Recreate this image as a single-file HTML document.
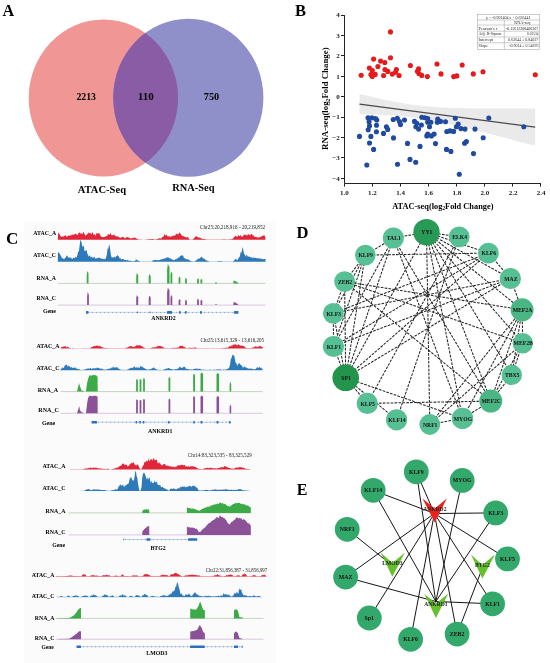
<!DOCTYPE html>
<html><head><meta charset="utf-8"><title>Figure</title>
<style>html,body{margin:0;padding:0;background:#fff;width:550px;height:663px;overflow:hidden}
svg{display:block} text{font-family:'Liberation Serif','Times New Roman',serif}</style></head>
<body><svg width="550" height="663" viewBox="0 0 550 663">
<rect width="550" height="663" fill="#fff"/>
<text x="2.6" y="15.5" font-size="16.2" font-weight="bold" text-anchor="start" fill="#000" >A</text>
<defs><clipPath id="clipL"><ellipse cx="103.4" cy="98" rx="74.7" ry="78.4"/></clipPath></defs>
<ellipse cx="103.4" cy="98" rx="74.7" ry="78.4" fill="#F09695"/>
<ellipse cx="188.3" cy="97.8" rx="75.1" ry="79" fill="#8F90C9"/>
<ellipse cx="188.3" cy="97.8" rx="75.1" ry="79" fill="#8A5CA6" clip-path="url(#clipL)"/>
<text x="76.4" y="99.7" font-size="10.8" font-weight="bold" text-anchor="start" fill="#000" textLength="19.6" lengthAdjust="spacingAndGlyphs" >2213</text>
<text x="137.8" y="99.7" font-size="10.8" font-weight="bold" text-anchor="start" fill="#000" textLength="16" lengthAdjust="spacingAndGlyphs" >110</text>
<text x="203.8" y="99.7" font-size="10.8" font-weight="bold" text-anchor="start" fill="#000" textLength="15.4" lengthAdjust="spacingAndGlyphs" >750</text>
<text x="77.8" y="193.1" font-size="10.8" font-weight="bold" text-anchor="start" fill="#000" textLength="48.2" lengthAdjust="spacingAndGlyphs" >ATAC-Seq</text>
<text x="172.3" y="191" font-size="10.8" font-weight="bold" text-anchor="start" fill="#000" textLength="42.2" lengthAdjust="spacingAndGlyphs" >RNA-Seq</text>
<text x="294.9" y="15.7" font-size="16.5" font-weight="bold" text-anchor="start" fill="#000" >B</text>
<polygon fill="#EAEAEA" points="359.47,93.94 362.4,94.65 365.32,95.36 368.25,96.06 371.18,96.74 374.11,97.42 377.04,98.09 379.97,98.74 382.9,99.39 385.83,100.01 388.76,100.62 391.69,101.21 394.62,101.78 397.55,102.33 400.47,102.85 403.4,103.35 406.33,103.83 409.26,104.27 412.19,104.69 415.12,105.08 418.05,105.44 420.98,105.77 423.91,106.08 426.84,106.36 429.77,106.61 432.7,106.84 435.62,107.04 438.55,107.23 441.48,107.39 444.41,107.54 447.34,107.67 450.27,107.79 453.2,107.89 456.13,107.99 459.06,108.07 461.99,108.14 464.92,108.2 467.85,108.26 470.77,108.3 473.7,108.35 476.63,108.38 479.56,108.41 482.49,108.44 485.42,108.46 488.35,108.47 491.28,108.49 494.21,108.5 497.14,108.5 500.07,108.51 503,108.51 505.92,108.51 508.85,108.5 511.78,108.5 514.71,108.49 517.64,108.48 520.57,108.47 523.5,108.45 526.43,108.44 529.36,108.42 532.29,108.41 535.22,108.39 535.22,145.84 532.29,145.05 529.36,144.27 526.43,143.49 523.5,142.71 520.57,141.93 517.64,141.15 514.71,140.38 511.78,139.6 508.85,138.83 505.92,138.06 503,137.29 500.07,136.53 497.14,135.76 494.21,135 491.28,134.25 488.35,133.49 485.42,132.74 482.49,132 479.56,131.26 476.63,130.52 473.7,129.79 470.77,129.07 467.85,128.35 464.92,127.64 461.99,126.93 459.06,126.24 456.13,125.55 453.2,124.88 450.27,124.22 447.34,123.57 444.41,122.94 441.48,122.32 438.55,121.72 435.62,121.14 432.7,120.57 429.77,120.04 426.84,119.52 423.91,119.03 420.98,118.57 418.05,118.14 415.12,117.73 412.19,117.36 409.26,117.01 406.33,116.69 403.4,116.4 400.47,116.13 397.55,115.89 394.62,115.67 391.69,115.47 388.76,115.3 385.83,115.14 382.9,115 379.97,114.87 377.04,114.76 374.11,114.66 371.18,114.58 368.25,114.5 365.32,114.43 362.4,114.37 359.47,114.32"/>
<line x1="359.47" y1="104.13" x2="535.22" y2="127.11" stroke="#4a4a4a" stroke-width="1.2"/>
<circle cx="361.2" cy="75.3" r="2.55" fill="#E8191A"/>
<circle cx="369.4" cy="68" r="2.55" fill="#E8191A"/>
<circle cx="370.9" cy="74.5" r="2.55" fill="#E8191A"/>
<circle cx="372.3" cy="70.5" r="2.55" fill="#E8191A"/>
<circle cx="372.3" cy="76.4" r="2.55" fill="#E8191A"/>
<circle cx="373.6" cy="59.1" r="2.55" fill="#E8191A"/>
<circle cx="375.2" cy="74.4" r="2.55" fill="#E8191A"/>
<circle cx="377.9" cy="66.5" r="2.55" fill="#E8191A"/>
<circle cx="380.6" cy="61.1" r="2.55" fill="#E8191A"/>
<circle cx="383.6" cy="75.6" r="2.55" fill="#E8191A"/>
<circle cx="384.8" cy="62.5" r="2.55" fill="#E8191A"/>
<circle cx="385" cy="69.5" r="2.55" fill="#E8191A"/>
<circle cx="387.7" cy="71.4" r="2.55" fill="#E8191A"/>
<circle cx="390.5" cy="31.9" r="2.55" fill="#E8191A"/>
<circle cx="390.5" cy="57.7" r="2.55" fill="#E8191A"/>
<circle cx="392.3" cy="74.1" r="2.55" fill="#E8191A"/>
<circle cx="395.5" cy="72.3" r="2.55" fill="#E8191A"/>
<circle cx="396.4" cy="69.5" r="2.55" fill="#E8191A"/>
<circle cx="399.1" cy="75.5" r="2.55" fill="#E8191A"/>
<circle cx="410.4" cy="65.5" r="2.55" fill="#E8191A"/>
<circle cx="418.6" cy="68.9" r="2.55" fill="#E8191A"/>
<circle cx="417.4" cy="71.2" r="2.55" fill="#E8191A"/>
<circle cx="418.9" cy="73.5" r="2.55" fill="#E8191A"/>
<circle cx="421.7" cy="75.4" r="2.55" fill="#E8191A"/>
<circle cx="427.4" cy="76.6" r="2.55" fill="#E8191A"/>
<circle cx="437" cy="64" r="2.55" fill="#E8191A"/>
<circle cx="441" cy="73.9" r="2.55" fill="#E8191A"/>
<circle cx="453.7" cy="76.6" r="2.55" fill="#E8191A"/>
<circle cx="456.8" cy="75.9" r="2.55" fill="#E8191A"/>
<circle cx="462.2" cy="65" r="2.55" fill="#E8191A"/>
<circle cx="473.3" cy="73.9" r="2.55" fill="#E8191A"/>
<circle cx="483" cy="71.7" r="2.55" fill="#E8191A"/>
<circle cx="535.3" cy="74.8" r="2.55" fill="#E8191A"/>
<circle cx="368" cy="117.7" r="2.55" fill="#1F4AA0"/>
<circle cx="371.8" cy="117.7" r="2.55" fill="#1F4AA0"/>
<circle cx="375.5" cy="118.5" r="2.55" fill="#1F4AA0"/>
<circle cx="376.8" cy="120" r="2.55" fill="#1F4AA0"/>
<circle cx="369.1" cy="121.8" r="2.55" fill="#1F4AA0"/>
<circle cx="369.5" cy="125.9" r="2.55" fill="#1F4AA0"/>
<circle cx="368.2" cy="129.7" r="2.55" fill="#1F4AA0"/>
<circle cx="376.5" cy="125.2" r="2.55" fill="#1F4AA0"/>
<circle cx="376.4" cy="131.8" r="2.55" fill="#1F4AA0"/>
<circle cx="386.4" cy="126.8" r="2.55" fill="#1F4AA0"/>
<circle cx="387.7" cy="129.4" r="2.55" fill="#1F4AA0"/>
<circle cx="383.5" cy="133.4" r="2.55" fill="#1F4AA0"/>
<circle cx="359.5" cy="136.4" r="2.55" fill="#1F4AA0"/>
<circle cx="370.9" cy="136.4" r="2.55" fill="#1F4AA0"/>
<circle cx="393.5" cy="137.9" r="2.55" fill="#1F4AA0"/>
<circle cx="369.5" cy="143" r="2.55" fill="#1F4AA0"/>
<circle cx="373.6" cy="149.4" r="2.55" fill="#1F4AA0"/>
<circle cx="366.8" cy="165" r="2.55" fill="#1F4AA0"/>
<circle cx="397.5" cy="164.3" r="2.55" fill="#1F4AA0"/>
<circle cx="393.2" cy="119.5" r="2.55" fill="#1F4AA0"/>
<circle cx="397.3" cy="118.2" r="2.55" fill="#1F4AA0"/>
<circle cx="399.5" cy="121.5" r="2.55" fill="#1F4AA0"/>
<circle cx="400.5" cy="124.6" r="2.55" fill="#1F4AA0"/>
<circle cx="404.5" cy="120" r="2.55" fill="#1F4AA0"/>
<circle cx="414.5" cy="121.4" r="2.55" fill="#1F4AA0"/>
<circle cx="416.8" cy="123.2" r="2.55" fill="#1F4AA0"/>
<circle cx="415.9" cy="126.8" r="2.55" fill="#1F4AA0"/>
<circle cx="418.6" cy="129.1" r="2.55" fill="#1F4AA0"/>
<circle cx="421.4" cy="125" r="2.55" fill="#1F4AA0"/>
<circle cx="421.8" cy="117.3" r="2.55" fill="#1F4AA0"/>
<circle cx="425" cy="117.7" r="2.55" fill="#1F4AA0"/>
<circle cx="427.7" cy="118.6" r="2.55" fill="#1F4AA0"/>
<circle cx="427.7" cy="122.3" r="2.55" fill="#1F4AA0"/>
<circle cx="430.9" cy="122.3" r="2.55" fill="#1F4AA0"/>
<circle cx="429.5" cy="126.8" r="2.55" fill="#1F4AA0"/>
<circle cx="437.7" cy="119.1" r="2.55" fill="#1F4AA0"/>
<circle cx="437.3" cy="122.3" r="2.55" fill="#1F4AA0"/>
<circle cx="440.5" cy="121.4" r="2.55" fill="#1F4AA0"/>
<circle cx="427.7" cy="134.1" r="2.55" fill="#1F4AA0"/>
<circle cx="426.8" cy="135.9" r="2.55" fill="#1F4AA0"/>
<circle cx="431.4" cy="135.9" r="2.55" fill="#1F4AA0"/>
<circle cx="434.1" cy="134.1" r="2.55" fill="#1F4AA0"/>
<circle cx="407.5" cy="143.4" r="2.55" fill="#1F4AA0"/>
<circle cx="435.5" cy="143.6" r="2.55" fill="#1F4AA0"/>
<circle cx="420" cy="146.4" r="2.55" fill="#1F4AA0"/>
<circle cx="410" cy="159.4" r="2.55" fill="#1F4AA0"/>
<circle cx="415.7" cy="162.3" r="2.55" fill="#1F4AA0"/>
<circle cx="445.5" cy="121.8" r="2.55" fill="#1F4AA0"/>
<circle cx="455.3" cy="118.2" r="2.55" fill="#1F4AA0"/>
<circle cx="458.2" cy="124.1" r="2.55" fill="#1F4AA0"/>
<circle cx="456.4" cy="126.8" r="2.55" fill="#1F4AA0"/>
<circle cx="460.9" cy="128.6" r="2.55" fill="#1F4AA0"/>
<circle cx="465" cy="129.1" r="2.55" fill="#1F4AA0"/>
<circle cx="446.8" cy="131.5" r="2.55" fill="#1F4AA0"/>
<circle cx="450" cy="130.9" r="2.55" fill="#1F4AA0"/>
<circle cx="453.6" cy="131.4" r="2.55" fill="#1F4AA0"/>
<circle cx="475" cy="129.1" r="2.55" fill="#1F4AA0"/>
<circle cx="483.2" cy="137.8" r="2.55" fill="#1F4AA0"/>
<circle cx="466.4" cy="141.5" r="2.55" fill="#1F4AA0"/>
<circle cx="464.6" cy="143.3" r="2.55" fill="#1F4AA0"/>
<circle cx="446.5" cy="149.4" r="2.55" fill="#1F4AA0"/>
<circle cx="450.9" cy="151.4" r="2.55" fill="#1F4AA0"/>
<circle cx="473.5" cy="153.6" r="2.55" fill="#1F4AA0"/>
<circle cx="459.3" cy="174.2" r="2.55" fill="#1F4AA0"/>
<circle cx="488.8" cy="118.1" r="2.55" fill="#1F4AA0"/>
<circle cx="523.8" cy="126.8" r="2.55" fill="#1F4AA0"/>
<path d="M344.5,15.1 V183.5 H541" fill="none" stroke="#222" stroke-width="1.0"/>
<line x1="341" y1="178.5" x2="344.5" y2="178.5" stroke="#222" stroke-width="1"/>
<text x="339.8" y="180.6" font-size="7" font-weight="bold" text-anchor="end" fill="#1a1a1a" >−4</text>
<line x1="341" y1="157.5" x2="344.5" y2="157.5" stroke="#222" stroke-width="1"/>
<text x="339.8" y="160.2" font-size="7" font-weight="bold" text-anchor="end" fill="#1a1a1a" >−3</text>
<line x1="341" y1="137.5" x2="344.5" y2="137.5" stroke="#222" stroke-width="1"/>
<text x="339.8" y="139.8" font-size="7" font-weight="bold" text-anchor="end" fill="#1a1a1a" >−2</text>
<line x1="341" y1="117.5" x2="344.5" y2="117.5" stroke="#222" stroke-width="1"/>
<text x="339.8" y="119.4" font-size="7" font-weight="bold" text-anchor="end" fill="#1a1a1a" >−1</text>
<line x1="341" y1="96.5" x2="344.5" y2="96.5" stroke="#222" stroke-width="1"/>
<text x="339.8" y="99" font-size="7" font-weight="bold" text-anchor="end" fill="#1a1a1a" >0</text>
<line x1="341" y1="76.5" x2="344.5" y2="76.5" stroke="#222" stroke-width="1"/>
<text x="339.8" y="78.6" font-size="7" font-weight="bold" text-anchor="end" fill="#1a1a1a" >1</text>
<line x1="341" y1="55.5" x2="344.5" y2="55.5" stroke="#222" stroke-width="1"/>
<text x="339.8" y="58.2" font-size="7" font-weight="bold" text-anchor="end" fill="#1a1a1a" >2</text>
<line x1="341" y1="35.5" x2="344.5" y2="35.5" stroke="#222" stroke-width="1"/>
<text x="339.8" y="37.8" font-size="7" font-weight="bold" text-anchor="end" fill="#1a1a1a" >3</text>
<line x1="341" y1="15.5" x2="344.5" y2="15.5" stroke="#222" stroke-width="1"/>
<text x="339.8" y="17.4" font-size="7" font-weight="bold" text-anchor="end" fill="#1a1a1a" >4</text>
<line x1="344.5" y1="183.5" x2="344.5" y2="186.6" stroke="#222" stroke-width="1"/>
<text x="344.3" y="194.5" font-size="7" font-weight="bold" text-anchor="middle" fill="#1a1a1a" >1.0</text>
<line x1="372.5" y1="183.5" x2="372.5" y2="186.6" stroke="#222" stroke-width="1"/>
<text x="372.42" y="194.5" font-size="7" font-weight="bold" text-anchor="middle" fill="#1a1a1a" >1.2</text>
<line x1="400.5" y1="183.5" x2="400.5" y2="186.6" stroke="#222" stroke-width="1"/>
<text x="400.54" y="194.5" font-size="7" font-weight="bold" text-anchor="middle" fill="#1a1a1a" >1.4</text>
<line x1="428.5" y1="183.5" x2="428.5" y2="186.6" stroke="#222" stroke-width="1"/>
<text x="428.66" y="194.5" font-size="7" font-weight="bold" text-anchor="middle" fill="#1a1a1a" >1.6</text>
<line x1="456.5" y1="183.5" x2="456.5" y2="186.6" stroke="#222" stroke-width="1"/>
<text x="456.78" y="194.5" font-size="7" font-weight="bold" text-anchor="middle" fill="#1a1a1a" >1.8</text>
<line x1="484.5" y1="183.5" x2="484.5" y2="186.6" stroke="#222" stroke-width="1"/>
<text x="484.9" y="194.5" font-size="7" font-weight="bold" text-anchor="middle" fill="#1a1a1a" >2.0</text>
<line x1="512.5" y1="183.5" x2="512.5" y2="186.6" stroke="#222" stroke-width="1"/>
<text x="513.02" y="194.5" font-size="7" font-weight="bold" text-anchor="middle" fill="#1a1a1a" >2.2</text>
<line x1="540.5" y1="183.5" x2="540.5" y2="186.6" stroke="#222" stroke-width="1"/>
<text x="541.14" y="194.5" font-size="7" font-weight="bold" text-anchor="middle" fill="#1a1a1a" >2.4</text>
<text x="392.2" y="208.6" font-size="8.3" font-weight="bold" textLength="101.3" lengthAdjust="spacingAndGlyphs">ATAC-seq(log<tspan font-size="5.2" dy="1.6">2</tspan><tspan dy="-1.6">Fold Change)</tspan></text>
<text transform="translate(327.8,149.9) rotate(-90)" x="0" y="0" font-size="8.8" font-weight="bold" textLength="102.5" lengthAdjust="spacingAndGlyphs">RNA-seq(log<tspan font-size="5.5" dy="1.7">2</tspan><tspan dy="-1.7">Fold Change)</tspan></text>
<rect x="477.6" y="14.4" width="61.9" height="35" fill="#fff" stroke="#999" stroke-width="0.5"/>
<line x1="477.6" y1="20.0" x2="539.5" y2="20.0" stroke="#999" stroke-width="0.5"/>
<line x1="477.6" y1="25.0" x2="539.5" y2="25.0" stroke="#999" stroke-width="0.5"/>
<line x1="477.6" y1="31.2" x2="539.5" y2="31.2" stroke="#999" stroke-width="0.5"/>
<line x1="477.6" y1="37.0" x2="539.5" y2="37.0" stroke="#999" stroke-width="0.5"/>
<line x1="477.6" y1="42.8" x2="539.5" y2="42.8" stroke="#999" stroke-width="0.5"/>
<line x1="504.3" y1="20.0" x2="504.3" y2="49.4" stroke="#999" stroke-width="0.5"/>
<text x="486" y="18.6" font-size="4.6" font-weight="normal" text-anchor="start" fill="#2a2a2a" textLength="44.4" lengthAdjust="spacingAndGlyphs" >y = -0.901404 x + 0.636441</text>
<text x="514.3" y="23.8" font-size="4.6" font-weight="normal" text-anchor="start" fill="#2a2a2a" textLength="16.2" lengthAdjust="spacingAndGlyphs" >RNA-seq</text>
<text x="478.6" y="29.6" font-size="4.6" font-weight="normal" text-anchor="start" fill="#2a2a2a" textLength="18.6" lengthAdjust="spacingAndGlyphs" >Pearson's r</text>
<text x="505.9" y="29.6" font-size="4.6" font-weight="normal" text-anchor="start" fill="#2a2a2a" textLength="32.5" lengthAdjust="spacingAndGlyphs" >-0.15612208406367</text>
<text x="478.6" y="35.4" font-size="4.6" font-weight="normal" text-anchor="start" fill="#2a2a2a" textLength="23.3" lengthAdjust="spacingAndGlyphs" >Adj. R-Square</text>
<text x="527.1" y="35.4" font-size="4.6" font-weight="normal" text-anchor="start" fill="#2a2a2a" textLength="11.3" lengthAdjust="spacingAndGlyphs" >0.01534</text>
<text x="478.6" y="41.2" font-size="4.6" font-weight="normal" text-anchor="start" fill="#2a2a2a" textLength="14.6" lengthAdjust="spacingAndGlyphs" >Intercept</text>
<text x="507.9" y="41.2" font-size="4.6" font-weight="normal" text-anchor="start" fill="#2a2a2a" textLength="30.5" lengthAdjust="spacingAndGlyphs" >0.63644 ± 0.84037</text>
<text x="478.6" y="47.4" font-size="4.6" font-weight="normal" text-anchor="start" fill="#2a2a2a" textLength="9.4" lengthAdjust="spacingAndGlyphs" >Slope</text>
<text x="509.2" y="47.4" font-size="4.6" font-weight="normal" text-anchor="start" fill="#2a2a2a" textLength="29.2" lengthAdjust="spacingAndGlyphs" >-0.9014 ± 0.54876</text>
<rect x="24" y="221" width="252" height="442" fill="#FBFBFB"/>
<text x="5.9" y="244" font-size="17" font-weight="bold" text-anchor="start" fill="#000" >C</text>
<text x="33.3" y="235.2" font-size="6.5" font-weight="bold" text-anchor="start" fill="#000" textLength="22.9" lengthAdjust="spacingAndGlyphs" >ATAC_A</text>
<text x="33.3" y="257.2" font-size="6.5" font-weight="bold" text-anchor="start" fill="#000" textLength="22.7" lengthAdjust="spacingAndGlyphs" >ATAC_C</text>
<text x="36.5" y="279.5" font-size="6.5" font-weight="bold" text-anchor="start" fill="#000" textLength="19.5" lengthAdjust="spacingAndGlyphs" >RNA_A</text>
<text x="36.5" y="300.2" font-size="6.5" font-weight="bold" text-anchor="start" fill="#000" textLength="19.5" lengthAdjust="spacingAndGlyphs" >RNA_C</text>
<text x="42.9" y="313" font-size="6.5" font-weight="bold" text-anchor="start" fill="#000" textLength="13.1" lengthAdjust="spacingAndGlyphs" >Gene</text>
<text x="200.1" y="228.6" font-size="5.4" font-weight="normal" text-anchor="start" fill="#222" textLength="65" lengthAdjust="spacingAndGlyphs" >Chr25:20,218,916 - 20,219,852</text>
<polygon fill="#E1263A" points="57.8,239.8 58.2,232.86 58.9,233.01 59.6,234.2 60.3,235.86 61,236.43 61.7,236.82 62.4,236.15 63.1,237.04 63.8,236.01 64.5,236.07 65.2,235.28 65.9,235.52 66.6,236.92 67.3,236.07 68,236.16 68.7,235.32 69.4,235.58 70.1,236.21 70.8,234.45 71.5,235.17 72.2,235.15 72.9,234.08 73.6,235.1 74.3,234.25 75,234.22 75.7,233.62 76.4,234.26 77.1,234.88 77.8,235.08 78.5,233.14 79.2,232.57 79.9,232.79 80.6,233.77 81.3,233.25 82,233.59 82.7,234.21 83.4,231.87 84.1,232.81 84.8,234.44 85.5,235.78 86.2,235.09 86.9,234.47 87.6,233.95 88.3,232.15 89,233.75 89.7,232.71 90.4,232.71 91.1,234.17 91.8,233.23 92.5,232.02 93.2,234.48 93.9,234.51 94.6,234.04 95.3,235.69 96,234.76 96.7,232.67 97.4,233.51 98.1,233.58 98.8,232.95 99.5,233.58 100.2,235.36 100.9,236.3 101.6,237.09 102.3,236.93 103,236.91 103.7,237.36 104.4,237.11 105.1,236.76 105.8,235.9 106.5,236.22 107.2,235.93 107.9,233.9 108.6,234.29 109.3,235.04 110,233.95 110.7,232.97 111.4,235.29 112.1,235.01 112.8,235.4 113.5,235.05 114.2,234.29 114.9,235.76 115.6,236.23 116.3,236.08 117,237 117.7,236.34 118.4,236.78 119.1,237.17 119.8,237.73 120.5,237.71 121.2,237.77 121.9,237.11 122.6,236.75 123.3,236.92 124,237.4 124.7,238.26 125.4,238.21 126.1,237.34 126.8,237.18 127.5,237.06 128.2,237.85 128.9,237.29 129.6,237.99 130.3,238.61 131,238.61 131.7,238.24 132.4,238.04 133.1,237.81 133.8,238.19 134.5,237.29 135.2,238.08 135.9,237.82 136.6,238.57 137.3,239.2 138,238.94 138.7,239.49 139.4,239.53 140.1,239.51 140.8,239.59 141.5,239.6 142.2,239.62 142.9,239.64 143.6,239.64 144.3,239.64 145,239.62 145.7,239.54 146.4,239.47 147.1,239.57 147.8,239.28 148.5,239.35 149.2,239.1 149.9,239.16 150.6,238.9 151.3,239.12 152,239.17 152.7,238.87 153.4,239.01 154.1,239.29 154.8,239.49 155.5,239.43 156.2,239.35 156.9,239.08 157.6,238.98 158.3,238.83 159,238.28 159.7,238.34 160.4,238.52 161.1,238.54 161.8,238.01 162.5,236.72 163.2,237.12 163.9,235.84 164.6,233.82 165.3,235.13 166,235.5 166.7,234.59 167.4,236.42 168.1,236.02 168.8,236.77 169.5,236.34 170.2,236.51 170.9,237.22 171.6,236.08 172.3,236.55 173,234.82 173.7,236.06 174.4,235.77 175.1,235.41 175.8,234.4 176.5,233.47 177.2,234.63 177.9,233.43 178.6,234.52 179.3,231.81 180,233.99 180.7,233.24 181.4,235.09 182.1,235.8 182.8,236.12 183.5,236.11 184.2,236.98 184.9,236.28 185.6,237.18 186.3,237.49 187,237.36 187.7,237.02 188.4,237.82 189.1,239.02 189.8,239.54 190.5,239.48 191.2,239.55 191.9,239.45 192.6,239.42 193.3,238.82 194,238.55 194.7,237.16 195.4,236.72 196.1,236.12 196.8,236.59 197.5,237.31 198.2,237.26 198.9,237.62 199.6,237.76 200.3,237.44 201,238.42 201.7,238.57 202.4,238.95 203.1,238.92 203.8,238.96 204.5,239.01 205.2,239.34 205.9,239.44 206.6,239.32 207.3,239.41 208,239.49 208.7,239.52 209.4,239.56 210.1,239.53 210.8,239.5 211.5,239.48 212.2,239.48 212.9,239.52 213.6,239.45 214.3,239.48 215,239.57 215.7,239.46 216.4,239.48 217.1,239.55 217.8,239.49 218.5,239.43 219.2,239.45 219.9,239.42 220.6,239.48 221.3,239.48 222,239.47 222.7,239.32 223.4,239.26 224.1,239.61 224.8,239.18 225.5,239.35 226.2,239.55 226.9,239.44 227.6,239.56 228.3,239.47 229,239.08 229.7,239.42 230.4,239.28 231.1,239.25 231.8,239.27 232.5,238.98 233.2,238.2 233.9,237.15 234.6,236.83 235.3,235.81 236,236.2 236.7,236.5 237.4,236.75 238.1,235.77 238.8,234.93 239.5,236.57 240.2,234.66 240.9,236.12 241.6,236.52 242.3,236.52 243,236.48 243.7,235.02 244.4,234.84 245.1,234.29 245.8,235.28 246.5,234.95 247.2,235.64 247.9,234.27 248.6,234.62 249.3,234.14 250,235.48 250.7,234.39 251.4,234.03 252.1,234.17 252.8,235.83 253.5,235.08 254.2,236.44 254.9,236.93 255.6,236.91 256.3,236.76 257,237.39 257.7,237.39 258.4,237.42 259.1,237.23 259.8,237.19 260.5,236.79 261.2,236.74 261.9,235.98 262.6,235.56 263.3,236.32 264,234.53 264.7,236.14 265.11,236.6 265.5,239.8"/>
<polygon fill="#2E7AB8" points="57.8,261.8 57.91,253.73 58.61,251.79 59.31,253.32 60.01,253.98 60.71,255.71 61.41,256.8 62.11,258.54 62.81,258 63.51,258.89 64.21,258.9 64.91,258.15 65.61,257.68 66.31,255.95 67.01,255.59 67.71,256.71 68.41,257.22 69.11,258.21 69.81,256.88 70.51,257.85 71.21,257.8 71.91,258.9 72.61,258.72 73.31,257.48 74.01,257.75 74.71,258.49 75.41,256.68 76.11,257.36 76.81,257.16 77.51,254.52 78.21,251.57 78.91,251.56 79.61,245.85 80.31,239.98 81.01,240.85 81.71,243.08 82.41,246.98 83.11,246.38 83.81,245.05 84.51,251.6 85.21,250.08 85.91,251.46 86.61,249.49 87.31,253.43 88.01,255.04 88.71,256.63 89.41,255.31 90.11,255.93 90.81,257.67 91.51,256.13 92.21,257.93 92.91,257.33 93.61,257.56 94.31,256.62 95.01,258.39 95.71,258.45 96.41,258.24 97.11,258.04 97.81,258.55 98.51,257.55 99.21,257.59 99.91,258.14 100.61,258.15 101.31,258.62 102.01,259.11 102.71,258.39 103.41,259.33 104.11,258.83 104.81,259.24 105.51,259.02 106.21,256.98 106.91,254.34 107.61,248.31 108.31,249.11 109.01,244.51 109.71,246.07 110.41,251.36 111.11,256.11 111.81,257.42 112.51,257.59 113.21,257.14 113.91,257.6 114.61,256.53 115.31,257.65 116.01,256.16 116.71,256.3 117.41,254.84 118.11,256.22 118.81,256.21 119.51,258.58 120.21,258.04 120.91,258.63 121.61,259.75 122.31,258.78 123.01,259.05 123.71,259.29 124.41,259.99 125.11,259.7 125.81,260.07 126.51,260.42 127.21,259.76 127.91,260.59 128.61,260.61 129.31,260.7 130.01,260.68 130.71,260.83 131.41,261.12 132.11,261.2 132.81,261.19 133.51,261.04 134.21,261.37 134.91,260.89 135.61,260.08 136.31,259.17 137.01,260.26 137.71,260.48 138.41,260.48 139.11,261.08 139.81,261.2 140.51,261.48 141.21,261.49 141.91,261.47 142.61,261.5 143.31,261.48 144.01,261.54 144.71,261.55 145.41,261.5 146.11,261.52 146.81,261.51 147.51,261.47 148.21,261.45 148.91,261.51 149.61,261.47 150.31,261.57 151.01,261.56 151.71,261.45 152.41,260.96 153.11,260.29 153.81,260.24 154.51,259.89 155.21,259.72 155.91,260.01 156.61,260.16 157.31,259.95 158.01,259.91 158.71,260.47 159.41,259.94 160.11,259.97 160.81,259.03 161.51,259.81 162.21,258.95 162.91,258.68 163.61,258.88 164.31,258.56 165.01,258.22 165.71,258.25 166.41,258.08 167.11,256.69 167.81,257.85 168.51,257.3 169.21,258.4 169.91,258.07 170.61,258.47 171.31,259.11 172.01,259.76 172.71,259.25 173.41,260.22 174.11,259.97 174.81,260.04 175.51,259.07 176.21,259.51 176.91,258.06 177.61,259 178.31,257.03 179.01,257.91 179.71,256.47 180.41,255.85 181.11,255.72 181.81,255.19 182.51,255.55 183.21,255.85 183.91,258.09 184.61,258.1 185.31,259.27 186.01,258.37 186.71,259.62 187.41,259.3 188.11,259.46 188.81,259.82 189.51,260.29 190.21,260.63 190.91,260.93 191.61,261.2 192.31,261.31 193.01,261.49 193.71,261.43 194.41,261.41 195.11,261 195.81,260.61 196.51,260.25 197.21,259.62 197.91,258.93 198.61,258.2 199.31,258.63 200.01,258.25 200.71,257.25 201.41,256.58 202.11,257.14 202.81,258.33 203.51,258.46 204.21,258.81 204.91,258.97 205.61,260.28 206.31,260.17 207.01,260.44 207.71,260.97 208.41,261.08 209.11,261.55 209.81,261.51 210.51,261.57 211.21,261.55 211.91,261.49 212.61,261.55 213.31,261.56 214.01,261.49 214.71,261.46 215.41,261.5 216.11,261.56 216.81,261.49 217.51,261.43 218.21,261.07 218.91,261 219.61,261.25 220.31,261.22 221.01,261.17 221.71,260.95 222.41,261.21 223.11,261.67 223.81,261.54 224.51,261.49 225.21,261.51 225.91,261.56 226.61,261.49 227.31,261.57 228.01,261.56 228.71,261.54 229.41,261.5 230.11,261.49 230.81,261.56 231.51,261.54 232.21,261.56 232.91,261.38 233.61,261.03 234.31,260.53 235.01,258.89 235.71,259.27 236.41,259.37 237.11,260.26 237.81,259.68 238.51,258.11 239.21,257.24 239.91,256.35 240.61,252.06 241.31,252.96 242.01,249.77 242.71,247.07 243.41,250.55 244.11,254.39 244.81,253.91 245.51,256.76 246.21,255.29 246.91,255.11 247.61,256.42 248.31,256.53 249.01,256.82 249.71,256.51 250.41,257.18 251.11,257.54 251.81,257.23 252.51,258.29 253.21,257.55 253.91,257.54 254.61,258.3 255.31,257.51 256.01,258.29 256.71,258.01 257.41,258.53 258.11,258.25 258.81,258.36 259.51,258.66 260.21,258.2 260.91,258.66 261.61,258.84 262.31,259.13 263.01,259.05 263.71,259.34 264.41,258.94 265.11,259 265.55,258.6 265.5,261.8"/>
<line x1="57.8" y1="283.4" x2="265.5" y2="283.4" stroke="#9DB89A" stroke-width="0.6"/>
<polygon fill="#3DAA48" points="86.7,283.4 86.7,275.34 87.24,271 88.5,273.6 88.5,283.4"/>
<polygon fill="#3DAA48" points="136.2,283.4 136.2,276.64 136.8,273 138.2,275.18 138.2,283.4"/>
<polygon fill="#3DAA48" points="148.7,283.4 148.7,277.29 149.3,274 150.7,275.97 150.7,283.4"/>
<polygon fill="#3DAA48" points="167.1,283.4 167.1,269.61 167.82,263.7 169.5,267.25 169.5,283.4"/>
<polygon fill="#3DAA48" points="170.5,283.4 170.5,275 171.04,271.4 172.3,273.56 172.3,283.4"/>
<polygon fill="#3DAA48" points="178.6,283.4 178.6,278.85 179.14,276.4 180.4,277.87 180.4,283.4"/>
<polygon fill="#3DAA48" points="185.1,283.4 185.1,279.76 185.64,277.8 186.9,278.98 186.9,283.4"/>
<polygon fill="#3DAA48" points="197.1,283.4 197.1,280.02 197.64,278.2 198.9,279.29 198.9,283.4"/>
<polygon fill="#3DAA48" points="200.5,283.4 200.5,280.34 201.04,278.7 202.3,279.69 202.3,283.4"/>
<polygon fill="#3DAA48" points="215,283.4 215.4,282.62 216,282.1 216.6,282.49 217,283.4"/>
<polygon fill="#3DAA48" points="233.3,283.4 233.3,283.4 233.5,280.8 235,280.7 236.5,281.8 238.3,283 238.5,283.4 238.5,283.4"/>
<line x1="57.8" y1="305.1" x2="265.5" y2="305.1" stroke="#C1A3C9" stroke-width="0.6"/>
<polygon fill="#8C5298" points="87.1,305.1 87.1,296.65 87.64,292.1 88.9,294.83 88.9,305.1"/>
<polygon fill="#8C5298" points="136.2,305.1 136.2,298.6 136.8,295.1 138.2,297.2 138.2,305.1"/>
<polygon fill="#8C5298" points="148.7,305.1 148.7,298.86 149.3,295.5 150.7,297.52 150.7,305.1"/>
<polygon fill="#8C5298" points="167.1,305.1 167.1,292.71 167.82,287.4 169.5,290.59 169.5,305.1"/>
<polygon fill="#8C5298" points="170.5,305.1 170.5,297.89 171.04,294.8 172.3,296.65 172.3,305.1"/>
<polygon fill="#8C5298" points="178.6,305.1 178.6,301.2 179.14,299.1 180.4,300.36 180.4,305.1"/>
<polygon fill="#8C5298" points="185.1,305.1 185.1,301.53 185.64,299.6 186.9,300.75 186.9,305.1"/>
<polygon fill="#8C5298" points="197.1,305.1 197.1,300.81 197.64,298.5 198.9,299.89 198.9,305.1"/>
<polygon fill="#8C5298" points="200.5,305.1 200.5,301.53 201.04,299.6 202.3,300.75 202.3,305.1"/>
<polygon fill="#8C5298" points="215,305.1 215.4,304.5 216,304.1 216.6,304.4 217,305.1"/>
<polygon fill="#8C5298" points="233.3,305.1 233.3,305.1 233.5,302.3 235,302.2 236.5,303.3 238.3,304.7 238.5,305.1 238.5,305.1"/>
<line x1="86" y1="312.4" x2="238.4" y2="312.4" stroke="#9DBBE0" stroke-width="0.6"/>
<line x1="88" y1="312.4" x2="238.4" y2="312.4" stroke="#2D6FC0" stroke-width="0.9" stroke-dasharray="0.7 3.3" opacity="0.8"/>
<rect x="86" y="311.1" width="2.4" height="2.6" rx="0.5" fill="#2D6FC0"/>
<rect x="167" y="311.1" width="5" height="2.6" rx="0.5" fill="#2D6FC0"/>
<rect x="179" y="311.1" width="1.6" height="2.6" rx="0.5" fill="#2D6FC0"/>
<rect x="185" y="311.1" width="1.6" height="2.6" rx="0.5" fill="#2D6FC0"/>
<rect x="200" y="311.1" width="1.8" height="2.6" rx="0.5" fill="#2D6FC0"/>
<rect x="234" y="311.1" width="4.4" height="2.6" rx="0.5" fill="#2D6FC0"/>
<rect x="137" y="311.6" width="1" height="1.6" fill="#2D6FC0"/>
<rect x="149.6" y="311.6" width="1" height="1.6" fill="#2D6FC0"/>
<text x="151.3" y="320.2" font-size="6.4" font-weight="bold" text-anchor="start" fill="#000" textLength="24.5" lengthAdjust="spacingAndGlyphs" >ANKRD2</text>
<text x="36.5" y="348.4" font-size="6.5" font-weight="bold" text-anchor="start" fill="#000" textLength="23.1" lengthAdjust="spacingAndGlyphs" >ATAC_A</text>
<text x="36.5" y="370.2" font-size="6.5" font-weight="bold" text-anchor="start" fill="#000" textLength="23.1" lengthAdjust="spacingAndGlyphs" >ATAC_C</text>
<text x="37.8" y="392.2" font-size="6.5" font-weight="bold" text-anchor="start" fill="#000" textLength="20.2" lengthAdjust="spacingAndGlyphs" >RNA_A</text>
<text x="38.3" y="411.6" font-size="6.5" font-weight="bold" text-anchor="start" fill="#000" textLength="20.5" lengthAdjust="spacingAndGlyphs" >RNA_C</text>
<text x="42" y="425.2" font-size="6.5" font-weight="bold" text-anchor="start" fill="#000" textLength="13.2" lengthAdjust="spacingAndGlyphs" >Gene</text>
<text x="200.5" y="342.3" font-size="5.4" font-weight="normal" text-anchor="start" fill="#222" textLength="63.6" lengthAdjust="spacingAndGlyphs" >Chr25:13,615,329 - 13,616,205</text>
<polygon fill="#E1263A" points="60.6,348.6 60.6,348.38 61.3,347.24 62,346.78 62.7,347.18 63.4,346.55 64.1,345.89 64.8,346.81 65.5,345.63 66.2,347.15 66.9,347.43 67.6,346.43 68.3,346.89 69,347.47 69.7,348.13 70.4,347.97 71.1,348.2 71.8,348.42 72.5,348.1 73.2,348.24 73.9,348.15 74.6,348.21 75.3,348.38 76,348.31 76.7,348.33 77.4,348.29 78.1,348.23 78.8,348.24 79.5,348.39 80.2,348.25 80.9,348.39 81.6,348.3 82.3,348.36 83,348.33 83.7,348.34 84.4,348.34 85.1,348.26 85.8,348.35 86.5,348.33 87.2,348.17 87.9,348.24 88.6,348.25 89.3,348.27 90,348.27 90.7,348.04 91.4,347.11 92.1,346.93 92.8,347.03 93.5,346.24 94.2,345.75 94.9,346.31 95.6,346.12 96.3,345.18 97,346.28 97.7,345.19 98.4,346.42 99.1,345.34 99.8,346.61 100.5,345.7 101.2,347.05 101.9,346.98 102.6,347.23 103.3,347.87 104,347.82 104.7,347.96 105.4,348.32 106.1,347.87 106.8,348.18 107.5,348.29 108.2,348.32 108.9,348.29 109.6,348.31 110.3,348.26 111,348.27 111.7,348.36 112.4,348.3 113.1,348.2 113.8,348.26 114.5,348.29 115.2,348.22 115.9,348.2 116.6,348.18 117.3,348.22 118,348.29 118.7,348.33 119.4,348.18 120.1,348.2 120.8,348.25 121.5,348.2 122.2,348.18 122.9,348.29 123.6,348.14 124.3,348.21 125,348.28 125.7,347.96 126.4,347.6 127.1,347.81 127.8,347.27 128.5,347.14 129.2,346.61 129.9,346.27 130.6,346.26 131.3,345.78 132,346.38 132.7,346.9 133.4,346.84 134.1,347.04 134.8,346.15 135.5,346.3 136.2,346 136.9,344.54 137.6,345.55 138.3,345.46 139,345.79 139.7,344.65 140.4,345.5 141.1,345.88 141.8,346.33 142.5,346.18 143.2,347.35 143.9,347.74 144.6,347.85 145.3,348.15 146,348.32 146.7,348.38 147.4,348.18 148.1,348.27 148.8,348.29 149.5,348.29 150.2,348.22 150.9,347.74 151.6,347.9 152.3,347.37 153,347.6 153.7,347.61 154.4,347.37 155.1,347.07 155.8,347.47 156.5,346.75 157.2,346.78 157.9,345.36 158.6,346.41 159.3,345.91 160,345.83 160.7,345.78 161.4,346.8 162.1,346.61 162.8,346.86 163.5,347.45 164.2,348.06 164.9,348.32 165.6,348.35 166.3,348.16 167,347.95 167.7,348.32 168.4,348.24 169.1,348.23 169.8,348.32 170.5,348.16 171.2,348.08 171.9,348.2 172.6,347.76 173.3,347.78 174,347.96 174.7,348 175.4,347.65 176.1,347.63 176.8,347.79 177.5,347.47 178.2,347.69 178.9,346.97 179.6,346.09 180.3,345.65 181,346.2 181.7,345.75 182.4,345.61 183.1,346.45 183.8,346.82 184.5,346.92 185.2,347.77 185.9,347.53 186.6,348.18 187.3,348.35 188,347.91 188.7,347.82 189.4,347.79 190.1,347.83 190.8,347.76 191.5,347.94 192.2,347.75 192.9,347.86 193.6,348.15 194.3,347.25 195,347.59 195.7,347.4 196.4,348 197.1,348.14 197.8,348.25 198.5,348.17 199.2,348.31 199.9,348.32 200.6,348.15 201.3,348.13 202,348.34 202.7,348.22 203.4,348.14 204.1,348.27 204.8,348.23 205.5,348.33 206.2,348.37 206.9,348.35 207.6,348.36 208.3,348.36 209,348.25 209.7,348.26 210.4,348.38 211.1,348.26 211.8,348.26 212.5,348.28 213.2,348.31 213.9,348.34 214.6,348.26 215.3,348.39 216,348.24 216.7,348.33 217.4,348.36 218.1,348.3 218.8,348.32 219.5,348.31 220.2,348.35 220.9,348.27 221.6,348.17 222.3,348.01 223,347.81 223.7,348.17 224.4,347.89 225.1,347.71 225.8,347.94 226.5,347.49 227.2,347.92 227.9,347.61 228.6,347.28 229.3,346.34 230,345.77 230.7,346.83 231.4,345.72 232.1,344.56 232.8,345.91 233.5,344.17 234.2,344.96 234.9,343.95 235.6,344.18 236.3,345.43 237,344.6 237.7,345.47 238.4,344.28 239.1,344.79 239.8,345.48 240.5,345.68 241.2,344.94 241.9,346.15 242.6,345.62 243.3,345.9 244,346.12 244.7,346.99 245.4,347.84 246.1,347.84 246.8,347.88 247.5,347.94 248.2,348.37 248.9,347.92 249.6,348.12 250.3,348.16 251,347.99 251.7,348.1 252.4,347.66 253.1,347.36 253.8,347.49 254.5,347.04 255.2,346.42 255.9,346.05 256.6,346.98 257.3,346.87 258,347.22 258.7,346.25 259.4,346.3 260.1,346.1 260.8,346.16 261.5,346.68 262.2,347.05 262.7,347.1 262.7,348.6"/>
<polygon fill="#2E7AB8" points="60.6,370.2 60.6,368.84 61.3,368.68 62,368.59 62.7,366.95 63.4,368.14 64.1,367.45 64.8,365.18 65.5,365.36 66.2,364.68 66.9,364.52 67.6,367.08 68.3,365.3 69,366.45 69.7,366.24 70.4,367.47 71.1,367.24 71.8,367.16 72.5,368.03 73.2,367.69 73.9,367.4 74.6,367.97 75.3,367.77 76,367.34 76.7,368.9 77.4,368.88 78.1,368.65 78.8,369.28 79.5,369.16 80.2,369.64 80.9,370 81.6,369.76 82.3,369.92 83,369.84 83.7,369.86 84.4,369.43 85.1,369.53 85.8,369.1 86.5,368.95 87.2,368.79 87.9,368.23 88.6,368.43 89.3,368.81 90,368.3 90.7,367.79 91.4,369.13 92.1,368.59 92.8,368.47 93.5,368.24 94.2,368.08 94.9,368.94 95.6,367.67 96.3,368.44 97,367.46 97.7,367.86 98.4,368.09 99.1,367.85 99.8,368.89 100.5,368.16 101.2,368.89 101.9,368.54 102.6,368.77 103.3,369.68 104,369.31 104.7,369.65 105.4,369.59 106.1,369.34 106.8,369.73 107.5,368.97 108.2,368.83 108.9,368.81 109.6,368.75 110.3,368.16 111,368.43 111.7,367.6 112.4,367.87 113.1,366.44 113.8,367.57 114.5,367.61 115.2,368.1 115.9,366.74 116.6,367.26 117.3,367.65 118,367.48 118.7,369.04 119.4,368.85 120.1,369.63 120.8,369.38 121.5,369.67 122.2,369.66 122.9,369.88 123.6,369.46 124.3,370.06 125,369.7 125.7,369.99 126.4,369.95 127.1,369.42 127.8,369.53 128.5,369.18 129.2,368.35 129.9,368.77 130.6,367.96 131.3,367.97 132,367.58 132.7,368.13 133.4,367.22 134.1,366.42 134.8,366.58 135.5,368.18 136.2,366.58 136.9,368.11 137.6,367.43 138.3,367.6 139,367.35 139.7,368.19 140.4,366 141.1,366.27 141.8,366.46 142.5,366.95 143.2,367.44 143.9,367.88 144.6,368.14 145.3,368.85 146,369.06 146.7,369.14 147.4,369.49 148.1,369.73 148.8,369.22 149.5,369.36 150.2,369.15 150.9,369.29 151.6,368.55 152.3,368.19 153,367.91 153.7,367.15 154.4,368.08 155.1,368.87 155.8,368.97 156.5,369.15 157.2,369.68 157.9,369.75 158.6,369.71 159.3,369.98 160,369.87 160.7,369.82 161.4,369.91 162.1,369.91 162.8,370.03 163.5,369.32 164.2,369.56 164.9,368.93 165.6,369.31 166.3,368.05 167,368.91 167.7,368.34 168.4,368.02 169.1,368.33 169.8,368.59 170.5,368.93 171.2,368.92 171.9,369.34 172.6,369.59 173.3,369.43 174,369.42 174.7,369.55 175.4,368.98 176.1,369.18 176.8,369.06 177.5,368.77 178.2,368.59 178.9,368.12 179.6,366.45 180.3,366.92 181,367.8 181.7,367.88 182.4,367.64 183.1,367.14 183.8,366.74 184.5,366.71 185.2,367.28 185.9,368.99 186.6,368.75 187.3,368.82 188,368.98 188.7,369.35 189.4,369.42 190.1,369.51 190.8,369.37 191.5,369.58 192.2,369.86 192.9,369.48 193.6,369.03 194.3,368.83 195,368.92 195.7,368.44 196.4,368.53 197.1,369.22 197.8,368.36 198.5,369.24 199.2,368.73 199.9,368.7 200.6,369.1 201.3,369.66 202,369.43 202.7,369.84 203.4,369.5 204.1,369.44 204.8,370.02 205.5,369.64 206.2,369.72 206.9,370.02 207.6,369.63 208.3,369.91 209,369.73 209.7,369.73 210.4,369.44 211.1,369.77 211.8,370.04 212.5,369.89 213.2,370.03 213.9,369.51 214.6,369.49 215.3,370.09 216,369.53 216.7,369.4 217.4,369.62 218.1,369.21 218.8,369.37 219.5,369.52 220.2,369.47 220.9,369.33 221.6,369.68 222.3,370.13 223,369.45 223.7,369.57 224.4,369.77 225.1,369.42 225.8,369.44 226.5,369.62 227.2,369.07 227.9,368.63 228.6,368.15 229.3,367.29 230,364.9 230.7,359.04 231.4,358.4 232.1,355.65 232.8,354.4 233.5,355.69 234.2,355.1 234.9,359.25 235.6,362.42 236.3,363.15 237,365.08 237.7,365.74 238.4,363.17 239.1,364.1 239.8,363.09 240.5,364.74 241.2,364.97 241.9,366.12 242.6,367.08 243.3,367.85 244,366.97 244.7,365.99 245.4,367.41 246.1,367.52 246.8,367.8 247.5,368.28 248.2,368.57 248.9,368.69 249.6,368.6 250.3,368.74 251,368.38 251.7,368.53 252.4,368.99 253.1,369.01 253.8,369.52 254.5,369.37 255.2,369.06 255.9,368.98 256.6,367.64 257.3,367.01 258,368.07 258.7,367.65 259.4,366.94 260.1,367.55 260.8,367.78 261.5,368.09 262.2,368.95 262.7,369.2 262.7,370.2"/>
<line x1="60.6" y1="391.6" x2="262.7" y2="391.6" stroke="#9DB89A" stroke-width="0.6"/>
<polygon fill="#3DAA48" points="77,391.6 77,391.6 78,387.6 79,382.9 80,386.6 81.6,390.6 83.8,391.1 84,391.6 84,391.6"/>
<polygon fill="#3DAA48" points="86,391.6 86,391.1 87,383.6 88.2,378.6 89,376.6 90,375.1 91,376.1 92,375.1 93,375.6 94,374.6 95,375.6 96,375.1 97,376.6 97.6,376.6 97.7,391.6 97.7,391.6"/>
<polygon fill="#3DAA48" points="136.1,391.6 136.1,380.17 136.64,378.9 137.9,379.66 137.9,391.6"/>
<polygon fill="#3DAA48" points="139.6,391.6 139.6,380.35 140.14,379.1 141.4,379.85 141.4,391.6"/>
<polygon fill="#3DAA48" points="143.1,391.6 143.1,379.45 143.64,378.1 144.9,378.91 144.9,391.6"/>
<polygon fill="#3DAA48" points="168.5,391.6 168.5,378.55 169.04,377.1 170.3,377.97 170.3,391.6"/>
<polygon fill="#3DAA48" points="193.15,391.6 193.15,375.58 193.72,373.8 195.05,374.87 195.05,391.6"/>
<polygon fill="#3DAA48" points="200.5,391.6 200.5,374.5 201.28,372.6 203.1,373.74 203.1,391.6"/>
<polygon fill="#3DAA48" points="216.5,391.6 216.5,374.86 217.28,373 219.1,374.12 219.1,391.6"/>
<polygon fill="#3DAA48" points="229.6,391.6 229.6,385.6 230.08,381.6 231.2,384 231.2,391.6"/>
<line x1="60.6" y1="413.3" x2="262.7" y2="413.3" stroke="#C1A3C9" stroke-width="0.6"/>
<polygon fill="#8C5298" points="77,413.3 77,413.3 78.3,409.3 79.2,406 80,410.3 81.6,412.3 84,413.3 84,413.3"/>
<polygon fill="#8C5298" points="86,413.3 86,412.8 87,404.3 88,398.3 89,396.3 90,395.8 92,396.3 94,395.8 96,395.8 97.6,396.8 97.7,413.3 97.7,413.3"/>
<polygon fill="#8C5298" points="136.1,413.3 136.1,400.7 136.64,399.3 137.9,400.14 137.9,413.3"/>
<polygon fill="#8C5298" points="139.6,413.3 139.6,401.15 140.14,399.8 141.4,400.61 141.4,413.3"/>
<polygon fill="#8C5298" points="143.1,413.3 143.1,400.25 143.64,398.8 144.9,399.67 144.9,413.3"/>
<polygon fill="#8C5298" points="168.5,413.3 168.5,399.98 169.04,398.5 170.3,399.39 170.3,413.3"/>
<polygon fill="#8C5298" points="193.15,413.3 193.15,397.73 193.72,396 195.05,397.04 195.05,413.3"/>
<polygon fill="#8C5298" points="200.5,413.3 200.5,397.28 201.28,395.5 203.1,396.57 203.1,413.3"/>
<polygon fill="#8C5298" points="216.5,413.3 216.5,397.73 217.28,396 219.1,397.04 219.1,413.3"/>
<polygon fill="#8C5298" points="229.6,413.3 229.6,407.9 230.08,404.3 231.2,406.46 231.2,413.3"/>
<line x1="92" y1="422.2" x2="230.6" y2="422.2" stroke="#9DBBE0" stroke-width="0.6"/>
<line x1="94" y1="422.2" x2="230.6" y2="422.2" stroke="#2D6FC0" stroke-width="0.9" stroke-dasharray="0.7 3.3" opacity="0.8"/>
<rect x="91.5" y="420.9" width="5.5" height="2.6" rx="0.5" fill="#2D6FC0"/>
<rect x="135.6" y="420.9" width="1.6" height="2.6" rx="0.5" fill="#2D6FC0"/>
<rect x="139.4" y="420.9" width="1.6" height="2.6" rx="0.5" fill="#2D6FC0"/>
<rect x="142.8" y="420.9" width="1.6" height="2.6" rx="0.5" fill="#2D6FC0"/>
<rect x="168" y="420.9" width="1.6" height="2.6" rx="0.5" fill="#2D6FC0"/>
<rect x="193.2" y="420.9" width="1.6" height="2.6" rx="0.5" fill="#2D6FC0"/>
<rect x="200.5" y="420.9" width="2" height="2.6" rx="0.5" fill="#2D6FC0"/>
<rect x="216.5" y="420.9" width="2" height="2.6" rx="0.5" fill="#2D6FC0"/>
<rect x="229" y="420.9" width="1.6" height="2.6" rx="0.5" fill="#2D6FC0"/>
<text x="148" y="433.1" font-size="6.4" font-weight="bold" text-anchor="start" fill="#000" textLength="24.5" lengthAdjust="spacingAndGlyphs" >ANKRD1</text>
<text x="42.4" y="468.4" font-size="6.5" font-weight="bold" text-anchor="start" fill="#000" textLength="23.1" lengthAdjust="spacingAndGlyphs" >ATAC_A</text>
<text x="42.4" y="490" font-size="6.5" font-weight="bold" text-anchor="start" fill="#000" textLength="23.1" lengthAdjust="spacingAndGlyphs" >ATAC_C</text>
<text x="45.6" y="512.9" font-size="6.5" font-weight="bold" text-anchor="start" fill="#000" textLength="19.9" lengthAdjust="spacingAndGlyphs" >RNA_A</text>
<text x="45.6" y="534.1" font-size="6.5" font-weight="bold" text-anchor="start" fill="#000" textLength="19.9" lengthAdjust="spacingAndGlyphs" >RNA_C</text>
<text x="52.2" y="546.9" font-size="6.5" font-weight="bold" text-anchor="start" fill="#000" textLength="12.9" lengthAdjust="spacingAndGlyphs" >Gene</text>
<text x="188" y="456.5" font-size="5.4" font-weight="normal" text-anchor="start" fill="#222" textLength="63.7" lengthAdjust="spacingAndGlyphs" >Chr14:83,323,535 - 83,325,529</text>
<polygon fill="#E1263A" points="68.6,469.4 68.69,469.4 69.39,469.39 70.09,469.38 70.79,469.37 71.49,469.36 72.19,469.35 72.89,469.33 73.59,469.31 74.29,469.3 74.99,469.3 75.69,469.29 76.39,469.26 77.09,469.28 77.79,469.23 78.49,469.27 79.19,469.26 79.89,469.24 80.59,469.19 81.29,469.18 81.99,469.16 82.69,469.2 83.39,469.12 84.09,469.02 84.79,468.57 85.49,468.6 86.19,468.6 86.89,468.45 87.59,468.32 88.29,468.34 88.99,467.87 89.69,468.12 90.39,467.47 91.09,467.81 91.79,468 92.49,467.66 93.19,467.82 93.89,467.27 94.59,467.92 95.29,467.64 95.99,467.41 96.69,467.78 97.39,468.23 98.09,468.18 98.79,468.27 99.49,468.51 100.19,468.48 100.89,468.26 101.59,468.81 102.29,468.8 102.99,468.89 103.69,468.67 104.39,468.92 105.09,468.81 105.79,468.98 106.49,469.17 107.19,468.6 107.89,468.87 108.59,468.83 109.29,469.21 109.99,469.4 110.69,469.28 111.39,469.13 112.09,469.03 112.79,469.03 113.49,469.03 114.19,468.58 114.89,468.22 115.59,468.19 116.29,467.53 116.99,467.94 117.69,467.36 118.39,467.52 119.09,466.37 119.79,466.31 120.49,465.64 121.19,465.76 121.89,464.53 122.59,463.81 123.29,463.35 123.99,464.32 124.69,465.06 125.39,464.47 126.09,464.49 126.79,465 127.49,466.51 128.19,466.08 128.89,465.99 129.59,464.49 130.29,463.49 130.99,463.72 131.69,462.72 132.39,463.29 133.09,462.35 133.79,462.47 134.49,464.5 135.19,464.45 135.89,465.5 136.59,465.17 137.29,464.22 137.99,465.03 138.69,466.01 139.39,467.67 140.09,468.63 140.79,469.35 141.49,469.17 142.19,467.58 142.89,465.75 143.59,465.23 144.29,461.91 144.99,462.61 145.69,461.38 146.39,461 147.09,460.25 147.79,461.9 148.49,458.24 149.19,461.1 149.89,460.71 150.59,459.24 151.29,459.1 151.99,460.09 152.69,460.45 153.39,458.12 154.09,458.66 154.79,460.23 155.49,460.22 156.19,460.1 156.89,459.34 157.59,463.35 158.29,463.48 158.99,462.11 159.69,463.2 160.39,463.57 161.09,464.85 161.79,465.38 162.49,465.24 163.19,464.31 163.89,464.05 164.59,464.31 165.29,464.28 165.99,465.87 166.69,465.71 167.39,465.3 168.09,466.57 168.79,465.54 169.49,466.57 170.19,466.48 170.89,466.28 171.59,466.83 172.29,466.54 172.99,467.09 173.69,466.34 174.39,467.4 175.09,466.87 175.79,466.75 176.49,466.38 177.19,466.36 177.89,465.22 178.59,465.19 179.29,464.95 179.99,465.76 180.69,464.94 181.39,464.6 182.09,465.31 182.79,464.78 183.49,465.51 184.19,465 184.89,465.11 185.59,466.65 186.29,466.28 186.99,466.3 187.69,466.85 188.39,466.33 189.09,466.41 189.79,466.73 190.49,466.4 191.19,465.66 191.89,466.84 192.59,465.99 193.29,466.57 193.99,466.68 194.69,466.55 195.39,467 196.09,467.47 196.79,467.72 197.49,468.37 198.19,468.96 198.89,468.64 199.59,468.78 200.29,469.06 200.99,469.07 201.69,469.16 202.39,469.06 203.09,469.01 203.79,468.39 204.49,468.4 205.19,468.36 205.89,468.12 206.59,467.96 207.29,467.86 207.99,467.85 208.69,468.25 209.39,468.04 210.09,467.63 210.79,467.71 211.49,467.73 212.19,468.52 212.89,467.95 213.59,468.27 214.29,468.22 214.99,468.52 215.69,468.14 216.39,468.53 217.09,468.4 217.79,468.04 218.49,468.16 219.19,467.63 219.89,467.86 220.59,467.22 221.29,467.56 221.99,466.76 222.69,467.39 223.39,467.18 224.09,466.13 224.79,466.05 225.49,466.63 226.19,466.59 226.89,466.79 227.59,467.58 228.29,467.67 228.99,467.73 229.69,467.93 230.39,468.42 231.09,468.22 231.79,468.79 232.49,468.53 233.19,468.77 233.89,468.67 234.59,468.21 235.29,467.82 235.99,467.73 236.69,467.61 237.39,467.67 238.09,467.52 238.79,467.21 239.49,467.31 240.19,466.9 240.89,467.46 241.59,467 242.29,467.9 242.99,467.54 243.69,467.76 244.39,468.02 245.09,468.53 245.79,469.04 246.49,468.95 247.19,469.07 247.89,468.98 248.59,469.11 249.29,469.1 249.99,469.23 250,469.2 250.5,469.4"/>
<polygon fill="#2E7AB8" points="68.6,491.1 68.69,491.1 69.39,491.09 70.09,491.08 70.79,491.06 71.49,491.06 72.19,491.05 72.89,491.05 73.59,491.02 74.29,491.03 74.99,491 75.69,490.96 76.39,490.99 77.09,490.98 77.79,490.97 78.49,490.92 79.19,490.95 79.89,490.94 80.59,490.94 81.29,490.86 81.99,490.86 82.69,490.9 83.39,490.86 84.09,490.81 84.79,490.41 85.49,489.84 86.19,489.7 86.89,489.48 87.59,489.27 88.29,488.7 88.99,489.6 89.69,489.45 90.39,489.72 91.09,489.9 91.79,490.21 92.49,489.85 93.19,489.57 93.89,489.29 94.59,489.5 95.29,489.58 95.99,489.61 96.69,489.61 97.39,489.69 98.09,489.52 98.79,489.35 99.49,489.78 100.19,489.89 100.89,489.82 101.59,489.9 102.29,490.12 102.99,490.11 103.69,490.03 104.39,490.08 105.09,490.02 105.79,490.58 106.49,490.7 107.19,490.6 107.89,490.55 108.59,490.91 109.29,490.73 109.99,490.88 110.69,490.42 111.39,490.3 112.09,490.45 112.79,489.94 113.49,490.07 114.19,490.01 114.89,489.52 115.59,489.14 116.29,489.4 116.99,489.32 117.69,489.32 118.39,486.99 119.09,485.89 119.79,485.29 120.49,484.55 121.19,484.94 121.89,486.13 122.59,484.22 123.29,485.39 123.99,487.02 124.69,485.95 125.39,485.5 126.09,485.34 126.79,484.61 127.49,484.07 128.19,483.99 128.89,482.44 129.59,479.03 130.29,476.42 130.99,479.44 131.69,476.81 132.39,480.64 133.09,479.86 133.79,481.36 134.49,477.28 135.19,472.06 135.89,470.86 136.59,475.99 137.29,477.75 137.99,483.53 138.69,487.25 139.39,490.85 140.09,490.89 140.79,490.09 141.49,487.44 142.19,477.93 142.89,474.29 143.59,472.8 144.29,472.64 144.99,474.13 145.69,476.34 146.39,478.46 147.09,479.86 147.79,476.85 148.49,479.76 149.19,477.31 149.89,478.49 150.59,482.77 151.29,480.97 151.99,482.59 152.69,483.17 153.39,482.39 154.09,482.4 154.79,480.15 155.49,482.85 156.19,481.86 156.89,482 157.59,484.42 158.29,485.29 158.99,484.43 159.69,485.51 160.39,485.08 161.09,487.51 161.79,487.09 162.49,486.84 163.19,487.55 163.89,488.14 164.59,488.23 165.29,488.46 165.99,489.42 166.69,489.3 167.39,489.52 168.09,490.39 168.79,490.26 169.49,490.76 170.19,488.4 170.89,489.08 171.59,488.49 172.29,489.1 172.99,488.84 173.69,488.22 174.39,488.76 175.09,489.15 175.79,489.27 176.49,489.26 177.19,489 177.89,487.99 178.59,488.22 179.29,488.67 179.99,487 180.69,486.73 181.39,487.52 182.09,486.32 182.79,486.69 183.49,486.81 184.19,486.69 184.89,486.19 185.59,487.81 186.29,486.78 186.99,486.66 187.69,486.87 188.39,486.75 189.09,485.59 189.79,486.02 190.49,486.06 191.19,487.15 191.89,486.12 192.59,485.67 193.29,486.22 193.99,485.38 194.69,486.03 195.39,486.54 196.09,487.77 196.79,487.26 197.49,488.09 198.19,489.97 198.89,490.24 199.59,490.56 200.29,490.39 200.99,490.55 201.69,490.39 202.39,490.26 203.09,490.41 203.79,490.18 204.49,490.2 205.19,489.87 205.89,489.91 206.59,489.57 207.29,490.31 207.99,490.08 208.69,490.26 209.39,490.41 210.09,490.24 210.79,490.32 211.49,490.15 212.19,489.56 212.89,489.67 213.59,490.01 214.29,489.58 214.99,489.56 215.69,489.37 216.39,489.45 217.09,490.06 217.79,489.63 218.49,489.68 219.19,489.81 219.89,489.6 220.59,489.69 221.29,489.86 221.99,489.77 222.69,489.59 223.39,489.54 224.09,489.72 224.79,489.42 225.49,488.98 226.19,489.08 226.89,489.65 227.59,489.64 228.29,489.77 228.99,489.85 229.69,489.92 230.39,489.84 231.09,489.78 231.79,489.64 232.49,490.22 233.19,489.77 233.89,489.75 234.59,489.99 235.29,489.91 235.99,489.76 236.69,489.84 237.39,489.89 238.09,489.4 238.79,489.08 239.49,489.37 240.19,489.02 240.89,489.22 241.59,489.63 242.29,490.11 242.99,490.28 243.69,490.3 244.39,490.42 245.09,490.52 245.79,490.31 246.49,490.72 247.19,490.62 247.89,490.83 248.59,490.74 249.29,490.79 249.99,490.87 250,490.9 250.5,491.1"/>
<line x1="68.6" y1="512.9" x2="250.5" y2="512.9" stroke="#9DB89A" stroke-width="0.6"/>
<polygon fill="#3DAA48" points="142.2,512.9 142.2,512.9 142.5,510.4 144,509.7 146,509.2 148,509.4 149.2,509.4 149.3,512.9 149.3,512.9"/>
<polygon fill="#3DAA48" points="186.91,512.9 186.91,507.74 187.71,507.56 188.51,508.22 189.31,507.97 190.11,508.23 190.91,508.62 191.71,508.84 192.51,508.43 193.31,508.44 194.11,509.09 194.91,508.91 195.71,509.4 196.51,509.9 197.31,509.84 198.11,510.41 198.91,510.99 199.71,510.14 200.51,510.25 201.31,509.28 202.11,508.89 202.91,508.38 203.71,508.38 204.51,507.72 205.31,507.74 206.11,507.23 206.91,507.23 207.71,506.45 208.51,506.65 209.31,506.84 210.11,506.36 210.91,505.58 211.71,505.27 212.51,505.23 213.31,504.69 214.11,504.19 214.91,504.99 215.71,503.98 216.51,504.21 217.31,503.16 218.11,503.93 218.91,503.83 219.71,502.33 220.51,502.72 221.31,503.38 222.11,503.07 222.91,503.31 223.71,504.29 224.51,503.87 225.31,504.04 226.11,505.03 226.91,505.5 227.71,506.27 228.51,506.11 229.31,506.83 230.11,506.19 230.91,506.08 231.71,505.01 232.51,504.53 233.31,504.03 234.11,503.91 234.91,503.26 235.71,502.63 236.51,503.15 237.31,503.35 238.11,502.63 238.91,503.07 239.71,502.85 240.51,504.01 241.31,503.58 242.11,504.09 242.91,504.23 243.71,504.37 244.51,504.36 245.31,504.8 246.11,505.41 246.91,505.28 247.71,505.72 248.51,505.75 249.31,506.74 250.11,507.35 250.84,507.01 250.84,512.9"/>
<line x1="68.6" y1="534.9" x2="250.5" y2="534.9" stroke="#C1A3C9" stroke-width="0.6"/>
<polygon fill="#8C5298" points="142.2,534.9 142.2,534.9 142.4,531.4 144.4,528.9 147.6,526.6 148.7,525.9 149.2,525.9 149.3,534.9 149.3,534.9"/>
<polygon fill="#8C5298" points="186.91,534.9 186.91,525.88 187.71,527.13 188.51,527.33 189.31,527.23 190.11,527.49 190.91,527.54 191.71,527.8 192.51,527.44 193.31,527.73 194.11,528.04 194.91,528.13 195.71,528.99 196.51,528.46 197.31,529.58 198.11,531.03 198.91,532.17 199.71,531.8 200.51,531.66 201.31,530.94 202.11,529.35 202.91,529.5 203.71,528.22 204.51,527.76 205.31,527.31 206.11,526.15 206.91,524.78 207.71,524.46 208.51,523.6 209.31,522.79 210.11,523.09 210.91,521.6 211.71,521.16 212.51,520.5 213.31,520.12 214.11,519.67 214.91,518.89 215.71,518.16 216.51,517.09 217.31,517.41 218.11,517.69 218.91,517.52 219.71,515.52 220.51,515.79 221.31,517.28 222.11,516.44 222.91,517.47 223.71,517.94 224.51,517.93 225.31,519.85 226.11,519.57 226.91,521.76 227.71,523.05 228.51,523.84 229.31,524.4 230.11,523.93 230.91,522.48 231.71,521.87 232.51,521.61 233.31,520.97 234.11,519.4 234.91,519.99 235.71,518.29 236.51,517.39 237.31,517.63 238.11,517.66 238.91,518.7 239.71,517.49 240.51,518.71 241.31,517.92 242.11,519.39 242.91,519.96 243.71,518.89 244.51,519.51 245.31,520.45 246.11,520.66 246.91,522.39 247.71,523 248.51,523.57 249.31,523.31 250.11,524.94 250.84,525.52 250.84,534.9"/>
<line x1="123.2" y1="539.5" x2="197.2" y2="539.5" stroke="#9DBBE0" stroke-width="0.6"/>
<line x1="125.2" y1="539.5" x2="197.2" y2="539.5" stroke="#2D6FC0" stroke-width="0.9" stroke-dasharray="0.7 3.3" opacity="0.8"/>
<rect x="146.5" y="538.2" width="4" height="2.6" rx="0.5" fill="#2D6FC0"/>
<rect x="188" y="538.2" width="9.2" height="2.6" rx="0.5" fill="#2D6FC0"/>
<rect x="123" y="538.7" width="0.8" height="1.6" fill="#2D6FC0"/>
<text x="150.4" y="549.6" font-size="6.4" font-weight="bold" text-anchor="start" fill="#000" textLength="15.2" lengthAdjust="spacingAndGlyphs" >BTG2</text>
<text x="31.7" y="577.2" font-size="6.5" font-weight="bold" text-anchor="start" fill="#000" textLength="22.7" lengthAdjust="spacingAndGlyphs" >ATAC_A</text>
<text x="31.7" y="598" font-size="6.5" font-weight="bold" text-anchor="start" fill="#000" textLength="22.7" lengthAdjust="spacingAndGlyphs" >ATAC_C</text>
<text x="34.8" y="619.9" font-size="6.5" font-weight="bold" text-anchor="start" fill="#000" textLength="19.6" lengthAdjust="spacingAndGlyphs" >RNA_A</text>
<text x="34.8" y="640" font-size="6.5" font-weight="bold" text-anchor="start" fill="#000" textLength="19.6" lengthAdjust="spacingAndGlyphs" >RNA_C</text>
<text x="41.5" y="649" font-size="6.5" font-weight="bold" text-anchor="start" fill="#000" textLength="12.2" lengthAdjust="spacingAndGlyphs" >Gene</text>
<text x="205.8" y="571.5" font-size="5.4" font-weight="normal" text-anchor="start" fill="#222" textLength="61.4" lengthAdjust="spacingAndGlyphs" >Chr22:31,856,387 - 31,856,997</text>
<line x1="55.7" y1="576.4" x2="266.3" y2="576.4" stroke="#E59A98" stroke-width="0.5"/>
<polygon fill="#E1263A" points="55.7,576.4 55.7,576.2 56.3,576.17 56.9,576.07 57.5,576.2 58.1,576.19 58.7,576.17 59.3,576.28 59.9,576.19 60.5,576.15 61.1,576.11 61.7,576.3 62.3,576.25 62.9,576.3 63.5,576.1 64.1,576.14 64.7,576.32 65.3,576.05 65.9,576.06 66.5,575.92 67.1,576.04 67.7,575.99 68.3,575.87 68.9,575.73 69.5,575.49 70.1,575.54 70.7,575.6 71.3,575.82 71.9,575.6 72.5,575.78 73.1,575.99 73.7,576.09 74.3,576.12 74.9,576.22 75.5,576.09 76.1,576.22 76.7,576.06 77.3,576.09 77.9,576.33 78.5,576.27 79.1,576.08 79.7,576.2 80.3,576.06 80.9,576.22 81.5,576.31 82.1,574.92 82.7,575.2 83.3,573.85 83.9,574.62 84.5,574.82 85.1,574.34 85.7,574.97 86.3,576.2 86.9,576.28 87.5,576.13 88.1,576.29 88.7,576.15 89.3,576.3 89.9,576.21 90.5,575.82 91.1,575.49 91.7,575.34 92.3,575.52 92.9,575.27 93.5,574.93 94.1,575.39 94.7,575.42 95.3,575.66 95.9,575.44 96.5,575.52 97.1,575.69 97.7,575.76 98.3,576.17 98.9,576.09 99.5,576.28 100.1,576.29 100.7,576.08 101.3,576.1 101.9,576.26 102.5,575.37 103.1,575.57 103.7,574.99 104.3,575.2 104.9,575.42 105.5,575.15 106.1,575.06 106.7,574.85 107.3,575.33 107.9,575.51 108.5,575.26 109.1,575.35 109.7,575.32 110.3,576.27 110.9,576.33 111.5,576.25 112.1,576.21 112.7,576.31 113.3,576.28 113.9,576.23 114.5,576.02 115.1,575.63 115.7,575.59 116.3,575.62 116.9,575.96 117.5,575.77 118.1,576.13 118.7,576.06 119.3,576.32 119.9,576.15 120.5,576.19 121.1,575.44 121.7,575.25 122.3,574.15 122.9,574.7 123.5,575.22 124.1,576.07 124.7,576.23 125.3,576.14 125.9,576.08 126.5,576.09 127.1,576.21 127.7,576.11 128.3,576.09 128.9,576.17 129.5,576.16 130.1,576.22 130.7,576.17 131.3,576.16 131.9,576.31 132.5,575.48 133.1,575.46 133.7,575.32 134.3,575.38 134.9,575.53 135.5,575.62 136.1,575.43 136.7,575.43 137.3,575.61 137.9,575.87 138.5,576.33 139.1,576.25 139.7,576.14 140.3,576.27 140.9,576.28 141.5,576.08 142.1,576.15 142.7,576.21 143.3,575.24 143.9,575.18 144.5,574.36 145.1,574.02 145.7,574.16 146.3,574.6 146.9,573.66 147.5,574.07 148.1,574.81 148.7,574.81 149.3,575.22 149.9,575.07 150.5,576.19 151.1,576.24 151.7,576.1 152.3,576.06 152.9,576.2 153.5,576.31 154.1,576.32 154.7,576.09 155.3,576.32 155.9,576.13 156.5,576.17 157.1,576.24 157.7,576.11 158.3,576.32 158.9,576.29 159.5,576.2 160.1,575.41 160.7,575.67 161.3,575.25 161.9,575.12 162.5,574.85 163.1,574.82 163.7,574.88 164.3,575.33 164.9,574.79 165.5,575.28 166.1,575.07 166.7,575.26 167.3,575.52 167.9,575.37 168.5,576.31 169.1,576.07 169.7,576.13 170.3,574.97 170.9,574.35 171.5,574.54 172.1,574.11 172.7,574.36 173.3,574.57 173.9,573.53 174.5,573.51 175.1,573.03 175.7,572.83 176.3,573.33 176.9,573.33 177.5,574.33 178.1,574.34 178.7,574.08 179.3,575.11 179.9,575.18 180.5,575.18 181.1,576.24 181.7,576.11 182.3,576.29 182.9,576.29 183.5,576.19 184.1,576.13 184.7,576.09 185.3,575.34 185.9,575.25 186.5,575.61 187.1,575.51 187.7,575.22 188.3,575 188.9,575.33 189.5,574.84 190.1,575.3 190.7,574.58 191.3,574.86 191.9,574.83 192.5,574.69 193.1,574.41 193.7,575.02 194.3,574.94 194.9,574.9 195.5,575.09 196.1,574.84 196.7,575.41 197.3,575.57 197.9,575.17 198.5,575.45 199.1,575.68 199.7,575.35 200.3,576.29 200.9,576.11 201.5,576.32 202.1,576.28 202.7,576.27 203.3,576.14 203.9,576.24 204.5,576.23 205.1,576.16 205.7,576.3 206.3,576.13 206.9,576.3 207.5,576.19 208.1,576.26 208.7,576.27 209.3,576.18 209.9,576.21 210.5,576.22 211.1,576.21 211.7,576.18 212.3,576.29 212.9,576.27 213.5,576.15 214.1,575.56 214.7,575.37 215.3,575.49 215.9,574.93 216.5,575.19 217.1,574.49 217.7,574.36 218.3,575.31 218.9,574.94 219.5,575.54 220.1,575.44 220.7,575.73 221.3,576.22 221.9,576.14 222.5,576.33 223.1,576.27 223.7,576.14 224.3,576.07 224.9,576.06 225.5,576.3 226.1,575.21 226.7,575.06 227.3,575.4 227.9,575.3 228.5,574.67 229.1,574.93 229.7,574.82 230.3,574.09 230.9,575.2 231.5,574.57 232.1,574.93 232.7,575.34 233.3,576.19 233.9,576.21 234.5,576.16 235.1,576.33 235.7,576.13 236.3,575.85 236.9,575.4 237.5,575.55 238.1,575.22 238.7,575.17 239.3,575.49 239.9,575.72 240.5,576.22 241.1,576.16 241.7,576.19 242.3,574.8 242.9,574.35 243.5,574.15 244.1,574.32 244.7,573.55 245.3,574.05 245.9,574.77 246.5,575.35 247.1,576.23 247.7,576.2 248.3,576.33 248.9,576.23 249.5,576.15 250.1,576.16 250.7,576.27 251.3,576.07 251.9,576.14 252.5,575.58 253.1,575.45 253.7,574.94 254.3,575.15 254.9,575.19 255.5,575.6 256.1,576.12 256.7,576.26 257.3,576.22 257.9,576.32 258.5,576.28 259.1,576.22 259.7,576.3 260.3,576.26 260.9,576.08 261.5,575.44 262.1,575.2 262.7,574.94 263.3,575.27 263.9,574.69 264.5,574.78 265.1,575.33 265.7,575.51 266.3,576.16 266.3,576.4"/>
<line x1="57" y1="597.1" x2="262" y2="597.1" stroke="#8FB0D6" stroke-width="0.5"/>
<polygon fill="#2E7AB8" points="57,597.1 57,596.9 57.6,596.85 58.2,596.84 58.8,596.99 59.4,597.03 60,596.58 60.6,596.16 61.2,595.98 61.8,596.26 62.4,596.44 63,596.78 63.6,597.01 64.2,596.8 64.8,597.01 65.4,596.84 66,596.94 66.6,596.92 67.2,596.47 67.8,595.56 68.4,595.95 69,595.39 69.6,596.14 70.2,596.99 70.8,596.94 71.4,596.86 72,596.98 72.6,596.43 73.2,595.81 73.8,595.95 74.4,595.77 75,596.05 75.6,595.06 76.2,595.51 76.8,595.91 77.4,595.81 78,596.24 78.6,596.2 79.2,596.8 79.8,596.89 80.4,597.02 81,596.8 81.6,596.91 82.2,596.22 82.8,595.92 83.4,596 84,595.77 84.6,595.77 85.2,595.35 85.8,595.85 86.4,595.85 87,595.79 87.6,595.98 88.2,596.76 88.8,596.98 89.4,596.77 90,596.93 90.6,595.48 91.2,595.99 91.8,594.98 92.4,595.4 93,595.51 93.6,594.02 94.2,594.94 94.8,595.36 95.4,594.99 96,595.82 96.6,595.78 97.2,596.85 97.8,596.96 98.4,596.76 99,596.78 99.6,596.98 100.2,596.95 100.8,596.79 101.4,596.95 102,596.77 102.6,595.48 103.2,595.72 103.8,595.47 104.4,594.68 105,594.12 105.6,595.29 106.2,594.6 106.8,595.29 107.4,595.24 108,595.96 108.6,596.87 109.2,596.78 109.8,596.81 110.4,596.23 111,595.72 111.6,596.09 112.2,595.2 112.8,595.5 113.4,596.04 114,596.36 114.6,597 115.2,596.93 115.8,596.94 116.4,596.77 117,596.84 117.6,596.88 118.2,596.86 118.8,597 119.4,595.6 120,595.8 120.6,595.54 121.2,595.58 121.8,595.19 122.4,594.35 123,594.27 123.6,595.67 124.2,595.35 124.8,595.32 125.4,595.92 126,595.57 126.6,597.03 127.2,596.93 127.8,596.95 128.4,596.97 129,596.91 129.6,596.12 130.2,596.02 130.8,595.99 131.4,595.79 132,596.22 132.6,596.23 133.2,596.97 133.8,596.88 134.4,596.82 135,596.92 135.6,595.46 136.2,595.26 136.8,595.23 137.4,595.01 138,595.13 138.6,595.65 139.2,595.47 139.8,596.17 140.4,596.8 141,596.95 141.6,596.77 142.2,595.71 142.8,594.89 143.4,595.53 144,594.27 144.6,594.02 145.2,594.19 145.8,594.81 146.4,595.11 147,594.87 147.6,595.81 148.2,596.96 148.8,596.76 149.4,596.88 150,597.02 150.6,596.21 151.2,596.33 151.8,596.26 152.4,595.77 153,596.12 153.6,596.34 154.2,596.43 154.8,596.44 155.4,596.47 156,596.62 156.6,596.94 157.2,596.79 157.8,596.86 158.4,597 159,596.84 159.6,596.88 160.2,596.23 160.5,597.1"/>
<polygon fill="#2E7AB8" points="160,597.1 160,596.57 160.7,595.97 161.4,595.92 162.1,595.75 162.8,595.56 163.5,594.82 164.2,595.48 164.9,595.4 165.6,595.85 166.3,595.79 167,595.9 167.7,595.69 168.4,595.61 169.1,594.56 169.8,594.65 170.5,593.78 171.2,593.77 171.9,592.64 172.6,590.9 173.3,591.72 174,590.73 174.7,590.33 175.4,586.83 176.1,586.84 176.8,583.61 177.5,582.11 178.2,584.61 178.9,587.39 179.6,589.55 180.3,593.56 181,594.21 181.7,593.2 182.4,595.23 183.1,595.94 183.8,595.35 184.5,596.37 185.2,595.27 185.9,593.69 186.6,595.04 187.3,594.65 188,594.8 188.7,593.42 189.4,594.08 190.1,595.54 190.8,595.38 191.5,596.04 192.2,595.64 192.9,594.53 193.6,593.67 194.3,593.34 195,591.5 195.7,593.56 196.4,593.84 197.1,594.85 197.8,594.54 198.5,595.85 199.2,595.35 199.9,596.37 200.6,595.66 201.3,596.07 202,596.64 202.7,596.33 203.4,596.54 204.1,596.7 204.8,596.11 205.5,595.75 206.2,596.22 206.9,595.82 207.6,595.88 208.3,595.58 209,596.07 209.7,595.94 210.4,596.1 211.1,596.49 211.8,596.14 212.5,596.64 213.2,596.13 213.9,596.2 214.6,596.89 215.3,595.84 216,596.85 216.7,596.07 217.4,596.21 218.1,595.69 218.8,595.87 219.5,596.57 220.2,595.94 220.9,595.24 221.6,595.82 222.3,595.75 223,595.02 223.7,592.79 224.4,594.85 225.1,594.13 225.8,594.09 226.5,594.22 227.2,595.81 227.9,593.88 228.6,594.74 229.3,594.95 230,595.65 230.7,596.53 231.4,596.51 232.1,596.73 232.8,595.41 233.5,595.59 234.2,593.51 234.9,592.58 235.6,593.94 236.3,592.9 237,591.82 237.7,593.31 238.4,593.86 239.1,588.14 239.8,589.78 240.5,589.66 241.2,589.08 241.9,592.42 242.6,593.56 243.3,595.33 244,595.28 244.7,595.3 245.4,595.38 246.1,595.09 246.8,595.98 247.5,596.15 248.2,596.45 248.9,595.9 249.6,596.03 250.3,595.94 251,596.32 251.7,596.39 252.4,596.57 253.1,595.26 253.8,595.71 254.5,595.4 255.2,595.97 255.9,596.41 256.6,596.39 257.3,596.29 258,596.01 258.7,596.12 259.4,596.05 260.1,596.31 260.8,596.96 261,597.1 261,597.1"/>
<line x1="55.7" y1="618.4" x2="263.5" y2="618.4" stroke="#9DB89A" stroke-width="0.6"/>
<polygon fill="#3DAA48" points="56.91,618.4 56.91,618.28 69.18,617.91 71.64,616.68 74.09,615.21 76.55,612.26 78.51,609.32 80.23,608.09 80.96,608.09 81.04,618.4 81.04,618.4"/>
<polygon fill="#3DAA48" points="190.19,618.4 190.19,618.4 190.26,608.47 192.55,609.18 196.1,609.65 198.46,606.11 200.12,601.38 201.54,604.92 203.19,609.65 204.85,610.13 204.92,618.4 204.92,618.4"/>
<polygon fill="#3DAA48" points="233.92,618.4 233.92,618.4 234,610.83 234.63,609.65 235.58,609.18 237,609.65 237.94,610.83 238.89,614.38 239.36,616.75 239.83,617.22 241.02,617.22 242.67,617.45 242.91,618.4 242.91,618.4"/>
<line x1="55.7" y1="639.2" x2="263.5" y2="639.2" stroke="#C1A3C9" stroke-width="0.6"/>
<polygon fill="#8C5298" points="58.14,639.2 58.14,638.95 69.18,638.71 71.64,637.24 74.09,635.52 76.55,633.8 79,631.35 80.96,631.35 81.04,639.2 81.04,639.2"/>
<polygon fill="#8C5298" points="190.19,639.2 190.19,639.2 190.26,631.4 193.74,630.93 197.28,629.74 199.65,625.02 201.54,627.38 203.19,632.11 204.85,633.29 204.92,639.2 204.92,639.2"/>
<polygon fill="#8C5298" points="233.92,639.2 233.92,639.2 234,633.29 235.58,631.4 237,632.11 237.94,633.29 239.36,638.02 241.02,638.49 242.2,638.73 242.43,639.2 242.43,639.2"/>
<line x1="81" y1="646.7" x2="242.5" y2="646.7" stroke="#9DBBE0" stroke-width="0.6"/>
<line x1="83" y1="646.7" x2="242.5" y2="646.7" stroke="#2D6FC0" stroke-width="0.9" stroke-dasharray="0.7 3.3" opacity="0.8"/>
<rect x="76.5" y="645.4" width="4.5" height="2.6" rx="0.5" fill="#2D6FC0"/>
<rect x="190" y="645.4" width="14.8" height="2.6" rx="0.5" fill="#2D6FC0"/>
<rect x="234" y="645.4" width="4" height="2.6" rx="0.5" fill="#2D6FC0"/>
<rect x="241.6" y="645.4" width="1" height="2.6" rx="0.5" fill="#2D6FC0"/>
<text x="146.3" y="655.1" font-size="6.4" font-weight="bold" text-anchor="start" fill="#000" textLength="21" lengthAdjust="spacingAndGlyphs" >LMOD3</text>
<text x="296.5" y="238" font-size="16.6" font-weight="bold" text-anchor="start" fill="#000" >D</text>
<g stroke="#262626" stroke-width="1.05" stroke-dasharray="2.7 1.2" fill="none">
<line x1="426.5" y1="232.2" x2="393.4" y2="238"/>
<line x1="426.5" y1="232.2" x2="459.2" y2="236.8"/>
<line x1="426.5" y1="232.2" x2="488.4" y2="253.1"/>
<line x1="426.5" y1="232.2" x2="510.4" y2="278.5"/>
<line x1="426.5" y1="232.2" x2="522.1" y2="309.8"/>
<line x1="426.5" y1="232.2" x2="522.8" y2="343.2"/>
<line x1="426.5" y1="232.2" x2="511.8" y2="374.9"/>
<line x1="426.5" y1="232.2" x2="490.8" y2="401.1"/>
<line x1="426.5" y1="232.2" x2="462.5" y2="418.4"/>
<line x1="426.5" y1="232.2" x2="429.8" y2="424.5"/>
<line x1="426.5" y1="232.2" x2="345.7" y2="377.8"/>
<line x1="459.2" y1="236.8" x2="396.6" y2="419.8"/>
<line x1="459.2" y1="236.8" x2="367.3" y2="403.4"/>
<line x1="488.4" y1="253.1" x2="365.3" y2="255.1"/>
<line x1="488.4" y1="253.1" x2="333.3" y2="313.3"/>
<line x1="488.4" y1="253.1" x2="333.5" y2="346.5"/>
<line x1="488.4" y1="253.1" x2="345.7" y2="377.8"/>
<line x1="488.4" y1="253.1" x2="510.4" y2="278.5"/>
<line x1="510.4" y1="278.5" x2="333.3" y2="313.3"/>
<line x1="510.4" y1="278.5" x2="333.5" y2="346.5"/>
<line x1="510.4" y1="278.5" x2="345.7" y2="377.8"/>
<line x1="510.4" y1="278.5" x2="522.1" y2="309.8"/>
<line x1="522.1" y1="309.8" x2="344.6" y2="281.6"/>
<line x1="522.1" y1="309.8" x2="522.8" y2="343.2"/>
<line x1="522.1" y1="309.8" x2="511.8" y2="374.9"/>
<line x1="522.1" y1="309.8" x2="490.8" y2="401.1"/>
<line x1="522.1" y1="309.8" x2="462.5" y2="418.4"/>
<line x1="522.1" y1="309.8" x2="429.8" y2="424.5"/>
<line x1="522.8" y1="343.2" x2="344.6" y2="281.6"/>
<line x1="522.8" y1="343.2" x2="490.8" y2="401.1"/>
<line x1="522.8" y1="343.2" x2="429.8" y2="424.5"/>
<line x1="522.8" y1="343.2" x2="511.8" y2="374.9"/>
<line x1="511.8" y1="374.9" x2="490.8" y2="401.1"/>
<line x1="490.8" y1="401.1" x2="367.3" y2="403.4"/>
<line x1="490.8" y1="401.1" x2="344.6" y2="281.6"/>
<line x1="490.8" y1="401.1" x2="393.4" y2="238"/>
<line x1="490.8" y1="401.1" x2="462.5" y2="418.4"/>
<line x1="462.5" y1="418.4" x2="345.7" y2="377.8"/>
<line x1="462.5" y1="418.4" x2="429.8" y2="424.5"/>
<line x1="462.5" y1="418.4" x2="393.4" y2="238"/>
<line x1="396.6" y1="419.8" x2="345.7" y2="377.8"/>
<line x1="367.3" y1="403.4" x2="345.7" y2="377.8"/>
<line x1="345.7" y1="377.8" x2="333.5" y2="346.5"/>
<line x1="345.7" y1="377.8" x2="333.3" y2="313.3"/>
<line x1="345.7" y1="377.8" x2="344.6" y2="281.6"/>
<line x1="345.7" y1="377.8" x2="365.3" y2="255.1"/>
<line x1="345.7" y1="377.8" x2="393.4" y2="238"/>
<line x1="333.5" y1="346.5" x2="333.3" y2="313.3"/>
<line x1="333.5" y1="346.5" x2="365.3" y2="255.1"/>
<line x1="333.5" y1="346.5" x2="393.4" y2="238"/>
<line x1="333.3" y1="313.3" x2="344.6" y2="281.6"/>
<line x1="333.3" y1="313.3" x2="365.3" y2="255.1"/>
<line x1="344.6" y1="281.6" x2="365.3" y2="255.1"/>
<line x1="365.3" y1="255.1" x2="393.4" y2="238"/>
</g>
<circle cx="426.5" cy="232.2" r="13.2" fill="#289A56"/>
<text x="426.9" y="234.4" font-size="5.7" font-weight="bold" text-anchor="middle" fill="#111" >YY1</text>
<circle cx="459.2" cy="236.8" r="10.4" fill="#56BF93"/>
<text x="459.6" y="239" font-size="5.7" font-weight="bold" text-anchor="middle" fill="#111" >ELK4</text>
<circle cx="488.4" cy="253.1" r="10.4" fill="#56BF93"/>
<text x="488.8" y="255.3" font-size="5.7" font-weight="bold" text-anchor="middle" fill="#111" >KLF6</text>
<circle cx="510.4" cy="278.5" r="10.6" fill="#56BF93"/>
<text x="510.8" y="280.7" font-size="5.7" font-weight="bold" text-anchor="middle" fill="#111" >MAZ</text>
<circle cx="522.1" cy="309.8" r="11.5" fill="#4AB684"/>
<text x="522.5" y="312" font-size="5.7" font-weight="bold" text-anchor="middle" fill="#111" >MEF2A</text>
<circle cx="522.8" cy="343.2" r="10.2" fill="#56BF93"/>
<text x="523.2" y="345.4" font-size="5.7" font-weight="bold" text-anchor="middle" fill="#111" >MEF2B</text>
<circle cx="511.8" cy="374.9" r="10.2" fill="#56BF93"/>
<text x="512.2" y="377.1" font-size="5.7" font-weight="bold" text-anchor="middle" fill="#111" >TBX5</text>
<circle cx="490.8" cy="401.1" r="11.5" fill="#4AB684"/>
<text x="491.2" y="403.3" font-size="5.7" font-weight="bold" text-anchor="middle" fill="#111" >MEF2C</text>
<circle cx="462.5" cy="418.4" r="10.7" fill="#56BF93"/>
<text x="462.9" y="420.6" font-size="5.7" font-weight="bold" text-anchor="middle" fill="#111" >MYOG</text>
<circle cx="429.8" cy="424.5" r="10.4" fill="#56BF93"/>
<text x="430.2" y="426.7" font-size="5.7" font-weight="bold" text-anchor="middle" fill="#111" >NRF1</text>
<circle cx="396.6" cy="419.8" r="10.6" fill="#56BF93"/>
<text x="397" y="422" font-size="5.7" font-weight="bold" text-anchor="middle" fill="#111" >KLF14</text>
<circle cx="367.3" cy="403.4" r="10.6" fill="#56BF93"/>
<text x="367.7" y="405.6" font-size="5.7" font-weight="bold" text-anchor="middle" fill="#111" >KLF5</text>
<circle cx="345.7" cy="377.8" r="13.3" fill="#23944B"/>
<text x="346.1" y="380" font-size="5.7" font-weight="bold" text-anchor="middle" fill="#111" >SP1</text>
<circle cx="333.5" cy="346.5" r="10.6" fill="#56BF93"/>
<text x="333.9" y="348.7" font-size="5.7" font-weight="bold" text-anchor="middle" fill="#111" >KLF1</text>
<circle cx="333.3" cy="313.3" r="10.4" fill="#56BF93"/>
<text x="333.7" y="315.5" font-size="5.7" font-weight="bold" text-anchor="middle" fill="#111" >KLF3</text>
<circle cx="344.6" cy="281.6" r="10.4" fill="#56BF93"/>
<text x="345" y="283.8" font-size="5.7" font-weight="bold" text-anchor="middle" fill="#111" >ZEB2</text>
<circle cx="365.3" cy="255.1" r="10.3" fill="#56BF93"/>
<text x="365.7" y="257.3" font-size="5.7" font-weight="bold" text-anchor="middle" fill="#111" >KLF9</text>
<circle cx="393.4" cy="238" r="10.6" fill="#56BF93"/>
<text x="393.8" y="240.2" font-size="5.7" font-weight="bold" text-anchor="middle" fill="#111" >TAL1</text>
<text x="296.8" y="495" font-size="16" font-weight="bold" text-anchor="start" fill="#000" >E</text>
<g stroke="#161616" stroke-width="1.0" fill="none">
<line x1="434.4" y1="513.5" x2="373.2" y2="490.3"/>
<line x1="434.4" y1="513.5" x2="416.3" y2="471.8"/>
<line x1="434.4" y1="513.5" x2="495.7" y2="512.9"/>
<line x1="434.4" y1="513.5" x2="507.5" y2="558.9"/>
<line x1="434.4" y1="513.5" x2="492.6" y2="603.8"/>
<line x1="434.4" y1="513.5" x2="457.1" y2="634.1"/>
<line x1="434.4" y1="513.5" x2="410.6" y2="639.3"/>
<line x1="434.4" y1="513.5" x2="369.3" y2="618"/>
<line x1="434.4" y1="513.5" x2="345.6" y2="577.1"/>
<line x1="435.8" y1="601.5" x2="416.3" y2="471.8"/>
<line x1="435.8" y1="601.5" x2="462.2" y2="480.4"/>
<line x1="435.8" y1="601.5" x2="495.7" y2="512.9"/>
<line x1="435.8" y1="601.5" x2="373.2" y2="490.3"/>
<line x1="435.8" y1="601.5" x2="345.6" y2="577.1"/>
<line x1="435.8" y1="601.5" x2="492.6" y2="603.8"/>
<line x1="392.3" y1="565.5" x2="347.2" y2="529.3"/>
<line x1="482.4" y1="568" x2="457.1" y2="634.1"/>
</g>
<circle cx="416.3" cy="471.8" r="12.4" fill="#33A86B"/>
<text x="416.3" y="473.8" font-size="5.8" font-weight="bold" text-anchor="middle" fill="#111" >KLF9</text>
<circle cx="462.2" cy="480.4" r="12.4" fill="#33A86B"/>
<text x="462.2" y="482.4" font-size="5.8" font-weight="bold" text-anchor="middle" fill="#111" >MYOG</text>
<circle cx="373.2" cy="490.3" r="12.4" fill="#33A86B"/>
<text x="373.2" y="492.3" font-size="5.8" font-weight="bold" text-anchor="middle" fill="#111" >KLF14</text>
<circle cx="495.7" cy="512.9" r="12.4" fill="#33A86B"/>
<text x="495.7" y="514.9" font-size="5.8" font-weight="bold" text-anchor="middle" fill="#111" >KLF3</text>
<circle cx="347.2" cy="529.3" r="12.4" fill="#33A86B"/>
<text x="347.2" y="531.3" font-size="5.8" font-weight="bold" text-anchor="middle" fill="#111" >NRF1</text>
<circle cx="507.5" cy="558.9" r="12.4" fill="#33A86B"/>
<text x="507.5" y="560.9" font-size="5.8" font-weight="bold" text-anchor="middle" fill="#111" >KLF5</text>
<circle cx="345.6" cy="577.1" r="12.4" fill="#33A86B"/>
<text x="345.6" y="579.1" font-size="5.8" font-weight="bold" text-anchor="middle" fill="#111" >MAZ</text>
<circle cx="492.6" cy="603.8" r="12.4" fill="#33A86B"/>
<text x="492.6" y="605.8" font-size="5.8" font-weight="bold" text-anchor="middle" fill="#111" >KLF1</text>
<circle cx="369.3" cy="618" r="12.4" fill="#33A86B"/>
<text x="369.3" y="620" font-size="5.8" font-weight="bold" text-anchor="middle" fill="#111" >Sp1</text>
<circle cx="457.1" cy="634.1" r="12.4" fill="#33A86B"/>
<text x="457.1" y="636.1" font-size="5.8" font-weight="bold" text-anchor="middle" fill="#111" >ZEB2</text>
<circle cx="410.6" cy="639.3" r="12.4" fill="#33A86B"/>
<text x="410.6" y="641.3" font-size="5.8" font-weight="bold" text-anchor="middle" fill="#111" >KLF6</text>
<polygon fill="#E8231C" points="422.5,498.6 434.8,508.5 446.8,498.6 434.8,522.6"/>
<text x="434.8" y="510.5" font-size="5.6" font-weight="bold" text-anchor="middle" fill="#222" >ANKRD2</text>
<polygon fill="#64C02B" points="380.6,552.5 392.4,563 404.8,552.7 392.3,576.7"/>
<text x="392.4" y="565" font-size="5.6" font-weight="bold" text-anchor="middle" fill="#222" >LMOD3</text>
<polygon fill="#64C02B" points="470.9,554.6 482.4,565 494.9,554.4 482.4,578.4"/>
<text x="482.4" y="567" font-size="5.6" font-weight="bold" text-anchor="middle" fill="#222" >BTG2</text>
<polygon fill="#64C02B" points="424.2,593.8 435.9,603.5 448.2,593.8 435.9,617.9"/>
<text x="435.9" y="605.5" font-size="5.6" font-weight="bold" text-anchor="middle" fill="#222" >ANKRD1</text>
</svg></body></html>
